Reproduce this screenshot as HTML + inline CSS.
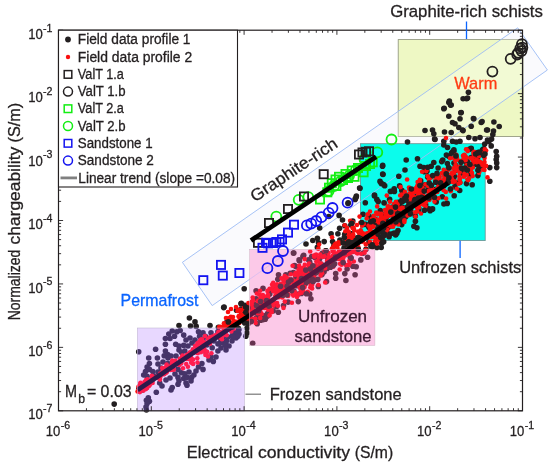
<!DOCTYPE html>
<html lang="en"><head><meta charset="utf-8"><title>Normalized chargeability vs electrical conductivity</title>
<style>html,body{margin:0;padding:0;background:#fff}svg{display:block}</style></head>
<body>
<svg width="550" height="464" viewBox="0 0 550 464" font-family="'Liberation Sans', sans-serif" fill="#231f20">
<style>text{stroke-width:0.3px}</style>
<rect width="550" height="464" fill="#fff"/>
<polygon points="182.4,262.3 517.7,27.8 547.4,70 212.2,305.6" fill="#f8f8fc"/>
<rect x="398.2" y="39.6" width="125" height="96.9" fill="#eef8c4" stroke="#8a8f78" stroke-width="0.8"/>
<polygon points="182.4,262.3 517.7,27.8 547.4,70 212.2,305.6" fill="#ffffff" fill-opacity="0.28"/>
<rect x="360.4" y="143.7" width="124.8" height="96.9" fill="#0bfcec" stroke="#6f8f90" stroke-width="0.8"/>
<polygon points="182.4,262.3 517.7,27.8 547.4,70 212.2,305.6" fill="none" stroke="#9dbcf5" stroke-width="0.9"/>
<defs>
<g id="b0">
<circle cx="138.7" cy="351.8" r="2.8"/>
<circle cx="189.4" cy="318.0" r="2.8"/>
<circle cx="179.0" cy="325.5" r="2.8"/>
<circle cx="195.0" cy="321.9" r="2.8"/>
<circle cx="190.5" cy="326.0" r="2.8"/>
<circle cx="196.2" cy="326.4" r="2.8"/>
<circle cx="210.0" cy="325.5" r="2.8"/>
<circle cx="172.2" cy="331.0" r="2.8"/>
<circle cx="176.8" cy="331.7" r="2.8"/>
<circle cx="180.2" cy="330.5" r="2.8"/>
<circle cx="183.7" cy="335.1" r="2.8"/>
<circle cx="168.8" cy="334.0" r="2.8"/>
<circle cx="165.4" cy="338.5" r="2.8"/>
<circle cx="170.0" cy="338.5" r="2.8"/>
<circle cx="174.5" cy="336.3" r="2.8"/>
<circle cx="165.4" cy="344.2" r="2.8"/>
<circle cx="175.7" cy="344.2" r="2.8"/>
<circle cx="179.0" cy="346.0" r="2.8"/>
<circle cx="183.7" cy="345.4" r="2.8"/>
<circle cx="155.6" cy="349.3" r="2.8"/>
<circle cx="165.4" cy="351.0" r="2.8"/>
<circle cx="167.7" cy="354.5" r="2.8"/>
<circle cx="164.2" cy="355.7" r="2.8"/>
<circle cx="179.0" cy="350.0" r="2.8"/>
<circle cx="181.4" cy="352.2" r="2.8"/>
<circle cx="184.8" cy="351.0" r="2.8"/>
<circle cx="148.7" cy="358.0" r="2.8"/>
<circle cx="157.4" cy="358.0" r="2.8"/>
<circle cx="167.7" cy="363.6" r="2.8"/>
<circle cx="172.2" cy="362.5" r="2.8"/>
<circle cx="149.4" cy="363.6" r="2.8"/>
<circle cx="147.1" cy="367.0" r="2.8"/>
<circle cx="149.4" cy="369.4" r="2.8"/>
<circle cx="145.5" cy="371.6" r="2.8"/>
<circle cx="143.7" cy="375.0" r="2.8"/>
<circle cx="147.1" cy="376.2" r="2.8"/>
<circle cx="152.8" cy="371.6" r="2.8"/>
<circle cx="198.5" cy="331.7" r="2.8"/>
<circle cx="203.0" cy="332.8" r="2.8"/>
<circle cx="199.6" cy="336.3" r="2.8"/>
<circle cx="205.3" cy="336.3" r="2.8"/>
<circle cx="211.0" cy="332.8" r="2.8"/>
<circle cx="208.8" cy="338.5" r="2.8"/>
<circle cx="203.0" cy="339.7" r="2.8"/>
<circle cx="200.8" cy="342.0" r="2.8"/>
<circle cx="217.9" cy="331.7" r="2.8"/>
<circle cx="220.2" cy="338.5" r="2.8"/>
<circle cx="223.6" cy="336.3" r="2.8"/>
<circle cx="223.6" cy="343.1" r="2.8"/>
<circle cx="225.9" cy="344.2" r="2.8"/>
<circle cx="212.2" cy="347.7" r="2.8"/>
<circle cx="217.9" cy="351.0" r="2.8"/>
<circle cx="211.0" cy="356.8" r="2.8"/>
<circle cx="213.3" cy="361.4" r="2.8"/>
<circle cx="201.9" cy="363.6" r="2.8"/>
<circle cx="203.0" cy="369.4" r="2.8"/>
<circle cx="198.5" cy="367.0" r="2.8"/>
<circle cx="178.0" cy="369.4" r="2.8"/>
<circle cx="181.4" cy="372.8" r="2.8"/>
<circle cx="184.8" cy="373.9" r="2.8"/>
<circle cx="178.0" cy="377.4" r="2.8"/>
<circle cx="179.0" cy="380.8" r="2.8"/>
<circle cx="183.7" cy="378.5" r="2.8"/>
<circle cx="187.0" cy="377.4" r="2.8"/>
<circle cx="191.6" cy="377.4" r="2.8"/>
<circle cx="193.9" cy="375.0" r="2.8"/>
<circle cx="186.0" cy="383.0" r="2.8"/>
<circle cx="187.0" cy="385.3" r="2.8"/>
<circle cx="178.0" cy="384.2" r="2.8"/>
<circle cx="172.2" cy="387.6" r="2.8"/>
<circle cx="171.0" cy="390.0" r="2.8"/>
<circle cx="159.7" cy="383.0" r="2.8"/>
<circle cx="156.3" cy="392.2" r="2.8"/>
<circle cx="142.6" cy="390.0" r="2.8"/>
<circle cx="148.3" cy="397.9" r="2.8"/>
<circle cx="146.4" cy="400.2" r="2.8"/>
<circle cx="149.4" cy="401.3" r="2.8"/>
<circle cx="147.1" cy="403.6" r="2.8"/>
<circle cx="146.0" cy="407.0" r="2.8"/>
<circle cx="146.4" cy="410.0" r="2.8"/>
<circle cx="114.2" cy="404.1" r="2.8"/>
<circle cx="223.7" cy="307.6" r="2.8"/>
<circle cx="241.0" cy="303.8" r="2.8"/>
<circle cx="152.0" cy="380.0" r="2.8"/>
<circle cx="154.0" cy="376.0" r="2.8"/>
<circle cx="158.0" cy="372.0" r="2.8"/>
<circle cx="161.0" cy="368.0" r="2.8"/>
<circle cx="163.0" cy="362.0" r="2.8"/>
<circle cx="158.0" cy="364.0" r="2.8"/>
<circle cx="168.0" cy="358.0" r="2.8"/>
<circle cx="171.0" cy="356.0" r="2.8"/>
<circle cx="176.0" cy="356.0" r="2.8"/>
<circle cx="188.0" cy="346.0" r="2.8"/>
<circle cx="192.0" cy="343.0" r="2.8"/>
<circle cx="195.0" cy="340.0" r="2.8"/>
<circle cx="190.0" cy="338.0" r="2.8"/>
<circle cx="186.0" cy="340.0" r="2.8"/>
<circle cx="207.0" cy="345.0" r="2.8"/>
<circle cx="214.0" cy="341.0" r="2.8"/>
<circle cx="218.0" cy="344.0" r="2.8"/>
<circle cx="221.0" cy="348.0" r="2.8"/>
<circle cx="226.0" cy="350.0" r="2.8"/>
<circle cx="229.0" cy="346.0" r="2.8"/>
<circle cx="232.0" cy="341.0" r="2.8"/>
<circle cx="228.0" cy="337.0" r="2.8"/>
<circle cx="233.0" cy="333.0" r="2.8"/>
<circle cx="236.0" cy="338.0" r="2.8"/>
<circle cx="239.0" cy="334.0" r="2.8"/>
<circle cx="206.0" cy="352.0" r="2.8"/>
<circle cx="209.0" cy="360.0" r="2.8"/>
<circle cx="216.0" cy="357.0" r="2.8"/>
<circle cx="196.0" cy="371.0" r="2.8"/>
<circle cx="191.0" cy="381.0" r="2.8"/>
<circle cx="189.0" cy="372.0" r="2.8"/>
<circle cx="175.0" cy="374.0" r="2.8"/>
<circle cx="170.0" cy="378.0" r="2.8"/>
<circle cx="166.0" cy="380.0" r="2.8"/>
<circle cx="162.0" cy="386.0" r="2.8"/>
<circle cx="244.2" cy="288.8" r="2.8"/>
<circle cx="224.1" cy="307.1" r="2.8"/>
<circle cx="241.3" cy="303.2" r="2.8"/>
<circle cx="293.8" cy="253.0" r="2.8"/>
<circle cx="302.9" cy="256.4" r="2.8"/>
<circle cx="299.5" cy="261.0" r="2.8"/>
<circle cx="309.7" cy="262.1" r="2.8"/>
<circle cx="285.8" cy="274.7" r="2.8"/>
<circle cx="277.8" cy="279.2" r="2.8"/>
<circle cx="274.4" cy="287.2" r="2.8"/>
<circle cx="263.0" cy="288.4" r="2.8"/>
<circle cx="256.1" cy="290.7" r="2.8"/>
<circle cx="256.1" cy="298.7" r="2.8"/>
<circle cx="260.7" cy="299.8" r="2.8"/>
<circle cx="269.8" cy="294.1" r="2.8"/>
<circle cx="280.1" cy="291.8" r="2.8"/>
<circle cx="285.8" cy="286.1" r="2.8"/>
<circle cx="292.6" cy="281.5" r="2.8"/>
<circle cx="299.5" cy="279.2" r="2.8"/>
<circle cx="305.2" cy="272.4" r="2.8"/>
<circle cx="293.8" cy="290.7" r="2.8"/>
<circle cx="298.3" cy="294.1" r="2.8"/>
<circle cx="288.1" cy="302.1" r="2.8"/>
<circle cx="283.5" cy="305.5" r="2.8"/>
<circle cx="276.6" cy="306.6" r="2.8"/>
<circle cx="270.9" cy="310.1" r="2.8"/>
<circle cx="267.5" cy="313.5" r="2.8"/>
<circle cx="264.1" cy="315.8" r="2.8"/>
<circle cx="259.5" cy="316.9" r="2.8"/>
<circle cx="256.1" cy="318.1" r="2.8"/>
<circle cx="260.7" cy="320.3" r="2.8"/>
<circle cx="265.2" cy="319.2" r="2.8"/>
<circle cx="257.2" cy="323.8" r="2.8"/>
<circle cx="248.1" cy="323.8" r="2.8"/>
<circle cx="247.0" cy="328.3" r="2.8"/>
<circle cx="247.0" cy="332.9" r="2.8"/>
<circle cx="245.8" cy="336.3" r="2.8"/>
<circle cx="252.7" cy="343.2" r="2.8"/>
<circle cx="226.4" cy="322.6" r="2.8"/>
<circle cx="218.4" cy="327.2" r="2.8"/>
<circle cx="223.0" cy="336.3" r="2.8"/>
<circle cx="226.4" cy="340.9" r="2.8"/>
<circle cx="232.1" cy="336.3" r="2.8"/>
<circle cx="235.5" cy="332.9" r="2.8"/>
<circle cx="237.8" cy="336.3" r="2.8"/>
<circle cx="225.3" cy="345.5" r="2.8"/>
<circle cx="219.6" cy="343.2" r="2.8"/>
<circle cx="309.7" cy="294.1" r="2.8"/>
<circle cx="310.9" cy="298.7" r="2.8"/>
<circle cx="359.6" cy="188.0" r="2.8"/>
<circle cx="356.2" cy="197.1" r="2.8"/>
<circle cx="355.1" cy="199.4" r="2.8"/>
<circle cx="348.2" cy="202.8" r="2.8"/>
<circle cx="339.1" cy="215.4" r="2.8"/>
<circle cx="342.5" cy="220.0" r="2.8"/>
<circle cx="328.8" cy="216.5" r="2.8"/>
<circle cx="319.7" cy="228.0" r="2.8"/>
<circle cx="331.1" cy="233.7" r="2.8"/>
<circle cx="337.9" cy="233.7" r="2.8"/>
<circle cx="317.4" cy="238.2" r="2.8"/>
<circle cx="312.8" cy="240.5" r="2.8"/>
<circle cx="306.0" cy="244.0" r="2.8"/>
<circle cx="318.5" cy="242.8" r="2.8"/>
<circle cx="324.2" cy="241.6" r="2.8"/>
<circle cx="317.4" cy="247.4" r="2.8"/>
<circle cx="352.8" cy="221.1" r="2.8"/>
<circle cx="344.8" cy="225.7" r="2.8"/>
<circle cx="376.8" cy="247.4" r="2.8"/>
<circle cx="371.0" cy="246.2" r="2.8"/>
<circle cx="381.3" cy="183.4" r="2.8"/>
<circle cx="384.7" cy="185.7" r="2.8"/>
<circle cx="374.5" cy="196.0" r="2.8"/>
<circle cx="376.8" cy="199.4" r="2.8"/>
<circle cx="365.3" cy="202.8" r="2.8"/>
<circle cx="363.0" cy="214.2" r="2.8"/>
<circle cx="293.4" cy="253.1" r="2.8"/>
<circle cx="303.7" cy="255.3" r="2.8"/>
<circle cx="299.1" cy="259.9" r="2.8"/>
<circle cx="311.7" cy="256.5" r="2.8"/>
<circle cx="294.6" cy="265.6" r="2.8"/>
<circle cx="293.4" cy="272.5" r="2.8"/>
<circle cx="295.7" cy="275.9" r="2.8"/>
<circle cx="319.7" cy="258.8" r="2.8"/>
<circle cx="326.5" cy="255.3" r="2.8"/>
<circle cx="356.2" cy="266.8" r="2.8"/>
<circle cx="360.8" cy="259.9" r="2.8"/>
<circle cx="347.1" cy="269.0" r="2.8"/>
<circle cx="344.8" cy="273.6" r="2.8"/>
<circle cx="355.1" cy="274.7" r="2.8"/>
<circle cx="335.7" cy="273.6" r="2.8"/>
<circle cx="345.9" cy="280.5" r="2.8"/>
<circle cx="335.7" cy="278.2" r="2.8"/>
<circle cx="326.5" cy="281.6" r="2.8"/>
<circle cx="303.7" cy="281.6" r="2.8"/>
<circle cx="363.1" cy="253.1" r="2.8"/>
<circle cx="382.7" cy="165.4" r="2.8"/>
<circle cx="382.7" cy="174.0" r="2.8"/>
<circle cx="380.0" cy="181.4" r="2.8"/>
<circle cx="383.6" cy="184.6" r="2.8"/>
<circle cx="360.0" cy="188.3" r="2.8"/>
<circle cx="356.4" cy="196.0" r="2.8"/>
<circle cx="355.5" cy="198.6" r="2.8"/>
<circle cx="348.0" cy="203.5" r="2.8"/>
<circle cx="374.5" cy="195.0" r="2.8"/>
<circle cx="443.8" cy="108.8" r="2.8"/>
<circle cx="448.8" cy="102.5" r="2.8"/>
<circle cx="451.2" cy="105.0" r="2.8"/>
<circle cx="461.2" cy="112.5" r="2.8"/>
<circle cx="448.8" cy="116.2" r="2.8"/>
<circle cx="460.0" cy="118.8" r="2.8"/>
<circle cx="473.8" cy="118.8" r="2.8"/>
<circle cx="452.5" cy="122.5" r="2.8"/>
<circle cx="455.0" cy="123.8" r="2.8"/>
<circle cx="481.2" cy="122.5" r="2.8"/>
<circle cx="458.8" cy="127.5" r="2.8"/>
<circle cx="462.5" cy="130.0" r="2.8"/>
<circle cx="471.2" cy="126.2" r="2.8"/>
<circle cx="425.0" cy="130.5" r="2.8"/>
<circle cx="432.5" cy="130.0" r="2.8"/>
<circle cx="433.8" cy="133.8" r="2.8"/>
<circle cx="444.5" cy="132.0" r="2.8"/>
<circle cx="451.2" cy="132.5" r="2.8"/>
<circle cx="487.5" cy="130.0" r="2.8"/>
<circle cx="468.8" cy="137.5" r="2.8"/>
<circle cx="475.0" cy="138.8" r="2.8"/>
<circle cx="480.0" cy="137.5" r="2.8"/>
<circle cx="487.5" cy="140.0" r="2.8"/>
<circle cx="435.0" cy="139.5" r="2.8"/>
<circle cx="407.5" cy="142.0" r="2.8"/>
<circle cx="443.8" cy="141.2" r="2.8"/>
<circle cx="452.5" cy="141.2" r="2.8"/>
<circle cx="456.2" cy="142.0" r="2.8"/>
<circle cx="460.0" cy="141.2" r="2.8"/>
<circle cx="406.2" cy="160.0" r="2.8"/>
<circle cx="417.5" cy="158.8" r="2.8"/>
<circle cx="382.5" cy="166.2" r="2.8"/>
<circle cx="383.0" cy="174.5" r="2.8"/>
<circle cx="405.0" cy="170.0" r="2.8"/>
<circle cx="398.8" cy="176.2" r="2.8"/>
<circle cx="420.0" cy="166.2" r="2.8"/>
<circle cx="423.8" cy="167.5" r="2.8"/>
<circle cx="431.2" cy="166.2" r="2.8"/>
<circle cx="433.8" cy="162.5" r="2.8"/>
<circle cx="443.8" cy="145.0" r="2.8"/>
<circle cx="447.5" cy="147.5" r="2.8"/>
<circle cx="448.8" cy="156.2" r="2.8"/>
<circle cx="453.8" cy="151.2" r="2.8"/>
<circle cx="471.2" cy="148.8" r="2.8"/>
<circle cx="483.8" cy="148.8" r="2.8"/>
<circle cx="480.0" cy="153.8" r="2.8"/>
<circle cx="471.2" cy="157.5" r="2.8"/>
<circle cx="478.8" cy="166.2" r="2.8"/>
<circle cx="482.5" cy="167.5" r="2.8"/>
<circle cx="468.4" cy="92.3" r="2.8"/>
<circle cx="463.1" cy="98.7" r="2.8"/>
<circle cx="466.5" cy="98.7" r="2.8"/>
<circle cx="449.4" cy="101.0" r="2.8"/>
<circle cx="444.2" cy="108.3" r="2.8"/>
<circle cx="460.8" cy="112.8" r="2.8"/>
<circle cx="473.4" cy="118.5" r="2.8"/>
<circle cx="482.1" cy="121.5" r="2.8"/>
<circle cx="493.9" cy="122.0" r="2.8"/>
<circle cx="499.2" cy="126.5" r="2.8"/>
<circle cx="463.1" cy="130.6" r="2.8"/>
<circle cx="486.6" cy="130.0" r="2.8"/>
<circle cx="493.5" cy="131.1" r="2.8"/>
<circle cx="492.8" cy="134.5" r="2.8"/>
<circle cx="491.6" cy="139.1" r="2.8"/>
<circle cx="488.9" cy="141.4" r="2.8"/>
<circle cx="434.6" cy="139.1" r="2.8"/>
<circle cx="491.2" cy="145.9" r="2.8"/>
<circle cx="496.2" cy="151.6" r="2.8"/>
<circle cx="496.7" cy="156.2" r="2.8"/>
<circle cx="496.2" cy="159.6" r="2.8"/>
<circle cx="496.7" cy="163.1" r="2.8"/>
<circle cx="496.7" cy="167.6" r="2.8"/>
<circle cx="489.8" cy="167.6" r="2.8"/>
<circle cx="489.8" cy="181.3" r="2.8"/>
<circle cx="471.1" cy="148.2" r="2.8"/>
<circle cx="482.5" cy="149.8" r="2.8"/>
<circle cx="452.8" cy="151.6" r="2.8"/>
<circle cx="446.4" cy="155.1" r="2.8"/>
<circle cx="472.2" cy="157.4" r="2.8"/>
<circle cx="454.0" cy="163.1" r="2.8"/>
<circle cx="479.1" cy="165.3" r="2.8"/>
<circle cx="470.0" cy="174.5" r="2.8"/>
<circle cx="477.9" cy="175.6" r="2.8"/>
<circle cx="466.5" cy="183.6" r="2.8"/>
<circle cx="472.2" cy="184.7" r="2.8"/>
<circle cx="459.7" cy="190.5" r="2.8"/>
<circle cx="459.7" cy="182.5" r="2.8"/>
<circle cx="467.6" cy="98.1" r="2.8"/>
<circle cx="450.5" cy="105.1" r="2.8"/>
<circle cx="264.5" cy="306.9" r="2.8"/>
<circle cx="230.7" cy="324.6" r="2.8"/>
<circle cx="234.5" cy="326.5" r="2.8"/>
<circle cx="244.1" cy="314.2" r="2.8"/>
<circle cx="273.2" cy="311.0" r="2.8"/>
<circle cx="248.9" cy="320.6" r="2.8"/>
<circle cx="238.4" cy="328.3" r="2.8"/>
<circle cx="241.0" cy="309.0" r="2.8"/>
<circle cx="254.8" cy="304.2" r="2.8"/>
<circle cx="267.4" cy="305.5" r="2.8"/>
<circle cx="277.0" cy="287.6" r="2.8"/>
<circle cx="270.2" cy="304.3" r="2.8"/>
<circle cx="236.5" cy="310.2" r="2.8"/>
<circle cx="263.2" cy="319.6" r="2.8"/>
<circle cx="269.3" cy="307.3" r="2.8"/>
<circle cx="278.1" cy="288.5" r="2.8"/>
<circle cx="270.8" cy="290.1" r="2.8"/>
<circle cx="296.0" cy="266.6" r="2.8"/>
<circle cx="232.4" cy="328.8" r="2.8"/>
<circle cx="278.5" cy="274.8" r="2.8"/>
<circle cx="276.1" cy="306.2" r="2.8"/>
<circle cx="229.6" cy="323.2" r="2.8"/>
<circle cx="256.1" cy="312.9" r="2.8"/>
<circle cx="260.3" cy="304.3" r="2.8"/>
<circle cx="267.6" cy="316.1" r="2.8"/>
<circle cx="290.2" cy="273.2" r="2.8"/>
<circle cx="297.0" cy="285.7" r="2.8"/>
<circle cx="244.7" cy="322.9" r="2.8"/>
<circle cx="244.8" cy="305.4" r="2.8"/>
<circle cx="246.9" cy="317.7" r="2.8"/>
<circle cx="296.6" cy="277.2" r="2.8"/>
<circle cx="367.6" cy="257.2" r="2.8"/>
<circle cx="387.5" cy="222.4" r="2.8"/>
<circle cx="339.9" cy="240.0" r="2.8"/>
<circle cx="306.7" cy="271.1" r="2.8"/>
<circle cx="305.3" cy="283.7" r="2.8"/>
<circle cx="300.0" cy="281.6" r="2.8"/>
<circle cx="336.4" cy="258.1" r="2.8"/>
<circle cx="314.9" cy="257.4" r="2.8"/>
<circle cx="325.2" cy="255.0" r="2.8"/>
<circle cx="326.5" cy="266.8" r="2.8"/>
<circle cx="395.1" cy="215.7" r="2.8"/>
<circle cx="352.8" cy="251.5" r="2.8"/>
<circle cx="302.7" cy="287.8" r="2.8"/>
<circle cx="352.8" cy="266.2" r="2.8"/>
<circle cx="369.6" cy="227.5" r="2.8"/>
<circle cx="326.1" cy="256.1" r="2.8"/>
<circle cx="377.2" cy="231.3" r="2.8"/>
<circle cx="322.3" cy="253.3" r="2.8"/>
<circle cx="380.6" cy="221.0" r="2.8"/>
<circle cx="381.8" cy="221.9" r="2.8"/>
<circle cx="351.8" cy="234.5" r="2.8"/>
<circle cx="327.9" cy="260.0" r="2.8"/>
<circle cx="325.9" cy="250.7" r="2.8"/>
<circle cx="344.7" cy="234.3" r="2.8"/>
<circle cx="322.7" cy="269.2" r="2.8"/>
<circle cx="319.7" cy="269.7" r="2.8"/>
<circle cx="380.0" cy="226.1" r="2.8"/>
<circle cx="308.5" cy="259.8" r="2.8"/>
<circle cx="378.2" cy="201.6" r="2.8"/>
<circle cx="375.0" cy="219.4" r="2.8"/>
<circle cx="378.9" cy="225.6" r="2.8"/>
<circle cx="339.6" cy="228.2" r="2.8"/>
<circle cx="398.0" cy="230.6" r="2.8"/>
<circle cx="365.7" cy="224.4" r="2.8"/>
<circle cx="301.4" cy="293.4" r="2.8"/>
<circle cx="352.7" cy="239.3" r="2.8"/>
<circle cx="321.1" cy="264.1" r="2.8"/>
<circle cx="324.1" cy="271.7" r="2.8"/>
<circle cx="391.0" cy="207.6" r="2.8"/>
<circle cx="390.4" cy="191.4" r="2.8"/>
<circle cx="350.2" cy="257.0" r="2.8"/>
<circle cx="353.2" cy="239.8" r="2.8"/>
<circle cx="318.3" cy="286.4" r="2.8"/>
<circle cx="317.2" cy="267.3" r="2.8"/>
<circle cx="332.6" cy="241.6" r="2.8"/>
<circle cx="310.6" cy="264.7" r="2.8"/>
<circle cx="377.2" cy="235.7" r="2.8"/>
<circle cx="350.8" cy="225.0" r="2.8"/>
<circle cx="391.2" cy="207.8" r="2.8"/>
<circle cx="351.2" cy="234.2" r="2.8"/>
<circle cx="369.3" cy="216.5" r="2.8"/>
<circle cx="347.8" cy="250.2" r="2.8"/>
<circle cx="394.2" cy="205.7" r="2.8"/>
<circle cx="394.2" cy="188.9" r="2.8"/>
<circle cx="307.3" cy="273.9" r="2.8"/>
<circle cx="371.6" cy="225.1" r="2.8"/>
<circle cx="366.0" cy="249.2" r="2.8"/>
<circle cx="322.0" cy="274.6" r="2.8"/>
<circle cx="399.0" cy="214.5" r="2.8"/>
<circle cx="351.6" cy="239.0" r="2.8"/>
<circle cx="331.9" cy="263.3" r="2.8"/>
<circle cx="344.0" cy="250.3" r="2.8"/>
<circle cx="301.8" cy="269.9" r="2.8"/>
<circle cx="397.2" cy="209.8" r="2.8"/>
<circle cx="310.5" cy="271.2" r="2.8"/>
<circle cx="327.0" cy="268.4" r="2.8"/>
<circle cx="391.1" cy="225.8" r="2.8"/>
<circle cx="381.9" cy="222.0" r="2.8"/>
<circle cx="391.9" cy="222.8" r="2.8"/>
<circle cx="357.1" cy="237.9" r="2.8"/>
<circle cx="368.8" cy="227.1" r="2.8"/>
<circle cx="393.8" cy="216.5" r="2.8"/>
<circle cx="363.4" cy="236.7" r="2.8"/>
<circle cx="385.6" cy="214.8" r="2.8"/>
<circle cx="333.9" cy="245.6" r="2.8"/>
<circle cx="355.3" cy="249.2" r="2.8"/>
<circle cx="305.0" cy="278.1" r="2.8"/>
<circle cx="375.9" cy="222.8" r="2.8"/>
<circle cx="334.7" cy="263.7" r="2.8"/>
<circle cx="347.5" cy="243.6" r="2.8"/>
<circle cx="349.5" cy="250.7" r="2.8"/>
<circle cx="350.7" cy="233.5" r="2.8"/>
<circle cx="368.8" cy="242.7" r="2.8"/>
<circle cx="383.2" cy="220.2" r="2.8"/>
<circle cx="384.1" cy="224.9" r="2.8"/>
<circle cx="436.3" cy="189.9" r="2.8"/>
<circle cx="443.9" cy="185.8" r="2.8"/>
<circle cx="398.4" cy="202.3" r="2.8"/>
<circle cx="400.0" cy="202.3" r="2.8"/>
<circle cx="403.5" cy="207.9" r="2.8"/>
<circle cx="416.1" cy="190.8" r="2.8"/>
<circle cx="380.4" cy="223.6" r="2.8"/>
<circle cx="383.2" cy="233.2" r="2.8"/>
<circle cx="424.5" cy="171.8" r="2.8"/>
<circle cx="430.0" cy="186.2" r="2.8"/>
<circle cx="454.8" cy="186.7" r="2.8"/>
<circle cx="428.9" cy="208.8" r="2.8"/>
<circle cx="435.8" cy="189.3" r="2.8"/>
<circle cx="419.8" cy="190.4" r="2.8"/>
<circle cx="418.3" cy="210.7" r="2.8"/>
<circle cx="388.0" cy="227.5" r="2.8"/>
<circle cx="427.7" cy="176.9" r="2.8"/>
<circle cx="427.6" cy="185.3" r="2.8"/>
<circle cx="380.3" cy="210.5" r="2.8"/>
<circle cx="420.7" cy="180.7" r="2.8"/>
<circle cx="430.1" cy="210.7" r="2.8"/>
<circle cx="399.2" cy="220.0" r="2.8"/>
<circle cx="385.7" cy="218.4" r="2.8"/>
<circle cx="395.6" cy="235.0" r="2.8"/>
<circle cx="436.2" cy="201.9" r="2.8"/>
<circle cx="409.1" cy="202.2" r="2.8"/>
<circle cx="416.4" cy="190.3" r="2.8"/>
<circle cx="426.9" cy="171.2" r="2.8"/>
<circle cx="399.3" cy="214.7" r="2.8"/>
<circle cx="436.5" cy="180.0" r="2.8"/>
<circle cx="380.9" cy="239.6" r="2.8"/>
<circle cx="384.6" cy="218.9" r="2.8"/>
<circle cx="432.6" cy="208.9" r="2.8"/>
<circle cx="415.3" cy="216.0" r="2.8"/>
<circle cx="395.1" cy="233.0" r="2.8"/>
<circle cx="454.3" cy="176.2" r="2.8"/>
<circle cx="442.3" cy="196.8" r="2.8"/>
<circle cx="400.4" cy="207.6" r="2.8"/>
<circle cx="390.1" cy="224.2" r="2.8"/>
<circle cx="447.4" cy="163.5" r="2.8"/>
<circle cx="433.5" cy="191.4" r="2.8"/>
<circle cx="381.9" cy="238.2" r="2.8"/>
<circle cx="402.9" cy="216.5" r="2.8"/>
<circle cx="404.0" cy="217.4" r="2.8"/>
<circle cx="443.8" cy="181.2" r="2.8"/>
<circle cx="448.5" cy="167.9" r="2.8"/>
<circle cx="402.0" cy="200.1" r="2.8"/>
<circle cx="455.9" cy="182.8" r="2.8"/>
<circle cx="424.8" cy="184.7" r="2.8"/>
<circle cx="400.9" cy="220.9" r="2.8"/>
<circle cx="401.7" cy="224.6" r="2.8"/>
<circle cx="451.1" cy="176.0" r="2.8"/>
<circle cx="418.8" cy="208.5" r="2.8"/>
<circle cx="394.4" cy="191.4" r="2.8"/>
<circle cx="447.2" cy="203.4" r="2.8"/>
<circle cx="441.7" cy="161.6" r="2.8"/>
<circle cx="451.5" cy="153.1" r="2.8"/>
<circle cx="421.7" cy="195.1" r="2.8"/>
<circle cx="414.3" cy="201.4" r="2.8"/>
<circle cx="401.8" cy="190.4" r="2.8"/>
<circle cx="415.9" cy="196.8" r="2.8"/>
<circle cx="454.2" cy="195.8" r="2.8"/>
<circle cx="399.8" cy="204.6" r="2.8"/>
<circle cx="422.4" cy="186.0" r="2.8"/>
<circle cx="410.0" cy="207.9" r="2.8"/>
<circle cx="395.8" cy="220.4" r="2.8"/>
<circle cx="455.7" cy="165.5" r="2.8"/>
<circle cx="394.6" cy="216.6" r="2.8"/>
<circle cx="386.9" cy="216.5" r="2.8"/>
<circle cx="398.2" cy="216.8" r="2.8"/>
<circle cx="399.6" cy="185.9" r="2.8"/>
<circle cx="408.6" cy="213.3" r="2.8"/>
<circle cx="405.7" cy="216.8" r="2.8"/>
<circle cx="453.5" cy="178.6" r="2.8"/>
<circle cx="389.6" cy="199.3" r="2.8"/>
<circle cx="445.6" cy="179.3" r="2.8"/>
<circle cx="396.4" cy="211.9" r="2.8"/>
<circle cx="413.9" cy="226.3" r="2.8"/>
<circle cx="446.3" cy="171.5" r="2.8"/>
<circle cx="381.7" cy="243.3" r="2.8"/>
<circle cx="398.9" cy="217.4" r="2.8"/>
<circle cx="419.7" cy="202.3" r="2.8"/>
<circle cx="431.8" cy="209.5" r="2.8"/>
<circle cx="438.1" cy="168.0" r="2.8"/>
<circle cx="383.0" cy="226.7" r="2.8"/>
<circle cx="439.5" cy="187.3" r="2.8"/>
<circle cx="429.1" cy="188.6" r="2.8"/>
<circle cx="399.1" cy="217.9" r="2.8"/>
<circle cx="428.4" cy="189.3" r="2.8"/>
<circle cx="385.3" cy="214.6" r="2.8"/>
<circle cx="397.0" cy="206.3" r="2.8"/>
<circle cx="425.7" cy="204.8" r="2.8"/>
<circle cx="468.7" cy="164.0" r="2.8"/>
<circle cx="469.2" cy="149.3" r="2.8"/>
<circle cx="476.5" cy="158.5" r="2.8"/>
<circle cx="475.4" cy="162.8" r="2.8"/>
<circle cx="467.5" cy="161.9" r="2.8"/>
<circle cx="464.0" cy="169.0" r="2.8"/>
<circle cx="478.3" cy="152.4" r="2.8"/>
<circle cx="469.9" cy="165.2" r="2.8"/>
<circle cx="475.3" cy="164.2" r="2.8"/>
<circle cx="466.6" cy="163.2" r="2.8"/>
<circle cx="460.8" cy="172.9" r="2.8"/>
<circle cx="455.7" cy="170.2" r="2.8"/>
<circle cx="482.3" cy="166.6" r="2.8"/>
<circle cx="477.4" cy="158.3" r="2.8"/>
<circle cx="464.5" cy="174.0" r="2.8"/>
</g>
<g id="rd">
<circle cx="149.0" cy="383.0" r="2.3"/>
<circle cx="148.9" cy="381.4" r="2.3"/>
<circle cx="137.6" cy="391.4" r="2.3"/>
<circle cx="146.0" cy="380.0" r="2.3"/>
<circle cx="141.3" cy="389.3" r="2.3"/>
<circle cx="148.4" cy="382.2" r="2.3"/>
<circle cx="162.6" cy="374.4" r="2.3"/>
<circle cx="139.0" cy="386.3" r="2.3"/>
<circle cx="151.9" cy="375.7" r="2.3"/>
<circle cx="143.4" cy="390.6" r="2.3"/>
<circle cx="148.6" cy="383.1" r="2.3"/>
<circle cx="150.0" cy="381.1" r="2.3"/>
<circle cx="162.3" cy="373.3" r="2.3"/>
<circle cx="138.6" cy="388.5" r="2.3"/>
<circle cx="139.4" cy="390.6" r="2.3"/>
<circle cx="160.3" cy="373.5" r="2.3"/>
<circle cx="164.9" cy="370.2" r="2.3"/>
<circle cx="166.7" cy="372.3" r="2.3"/>
<circle cx="156.3" cy="376.9" r="2.3"/>
<circle cx="147.2" cy="388.0" r="2.3"/>
<circle cx="145.9" cy="389.1" r="2.3"/>
<circle cx="165.5" cy="371.2" r="2.3"/>
<circle cx="156.8" cy="377.5" r="2.3"/>
<circle cx="144.6" cy="385.0" r="2.3"/>
<circle cx="152.0" cy="378.3" r="2.3"/>
<circle cx="149.3" cy="382.0" r="2.3"/>
<circle cx="152.6" cy="382.9" r="2.3"/>
<circle cx="165.8" cy="373.0" r="2.3"/>
<circle cx="160.0" cy="379.6" r="2.3"/>
<circle cx="162.6" cy="373.6" r="2.3"/>
<circle cx="147.5" cy="379.4" r="2.3"/>
<circle cx="147.2" cy="380.2" r="2.3"/>
<circle cx="139.9" cy="392.1" r="2.3"/>
<circle cx="143.5" cy="386.0" r="2.3"/>
<circle cx="139.5" cy="386.5" r="2.3"/>
<circle cx="138.5" cy="386.9" r="2.3"/>
<circle cx="167.4" cy="368.9" r="2.3"/>
<circle cx="164.4" cy="374.1" r="2.3"/>
<circle cx="140.1" cy="388.1" r="2.3"/>
<circle cx="140.4" cy="383.6" r="2.3"/>
<circle cx="151.1" cy="380.8" r="2.3"/>
<circle cx="144.6" cy="381.7" r="2.3"/>
<circle cx="158.1" cy="378.1" r="2.3"/>
<circle cx="160.3" cy="377.1" r="2.3"/>
<circle cx="141.2" cy="384.1" r="2.3"/>
<circle cx="163.1" cy="371.6" r="2.3"/>
<circle cx="148.9" cy="385.9" r="2.3"/>
<circle cx="160.0" cy="375.5" r="2.3"/>
<circle cx="145.0" cy="387.0" r="2.3"/>
<circle cx="142.2" cy="389.6" r="2.3"/>
<circle cx="147.5" cy="380.8" r="2.3"/>
<circle cx="149.6" cy="385.2" r="2.3"/>
<circle cx="144.6" cy="385.1" r="2.3"/>
<circle cx="162.2" cy="368.1" r="2.3"/>
<circle cx="140.6" cy="382.7" r="2.3"/>
<circle cx="198.6" cy="348.9" r="2.3"/>
<circle cx="201.6" cy="348.8" r="2.3"/>
<circle cx="169.8" cy="368.1" r="2.3"/>
<circle cx="172.6" cy="369.8" r="2.3"/>
<circle cx="202.2" cy="344.6" r="2.3"/>
<circle cx="179.9" cy="363.0" r="2.3"/>
<circle cx="175.4" cy="360.9" r="2.3"/>
<circle cx="196.1" cy="351.2" r="2.3"/>
<circle cx="188.8" cy="353.9" r="2.3"/>
<circle cx="189.8" cy="354.5" r="2.3"/>
<circle cx="170.7" cy="369.9" r="2.3"/>
<circle cx="173.2" cy="365.0" r="2.3"/>
<circle cx="191.1" cy="357.8" r="2.3"/>
<circle cx="173.1" cy="368.1" r="2.3"/>
<circle cx="192.1" cy="352.5" r="2.3"/>
<circle cx="172.4" cy="364.8" r="2.3"/>
<circle cx="196.8" cy="351.4" r="2.3"/>
<circle cx="186.9" cy="357.3" r="2.3"/>
<circle cx="180.8" cy="360.5" r="2.3"/>
<circle cx="187.0" cy="354.7" r="2.3"/>
<circle cx="171.5" cy="365.1" r="2.3"/>
<circle cx="192.8" cy="349.3" r="2.3"/>
<circle cx="177.3" cy="363.8" r="2.3"/>
<circle cx="203.1" cy="342.9" r="2.3"/>
<circle cx="179.3" cy="365.0" r="2.3"/>
<circle cx="181.7" cy="357.9" r="2.3"/>
<circle cx="194.1" cy="352.7" r="2.3"/>
<circle cx="173.1" cy="365.4" r="2.3"/>
<circle cx="182.0" cy="360.7" r="2.3"/>
<circle cx="200.3" cy="343.2" r="2.3"/>
<circle cx="183.4" cy="358.5" r="2.3"/>
<circle cx="187.1" cy="356.2" r="2.3"/>
<circle cx="190.6" cy="354.6" r="2.3"/>
<circle cx="189.9" cy="352.9" r="2.3"/>
<circle cx="179.8" cy="358.7" r="2.3"/>
<circle cx="176.3" cy="362.9" r="2.3"/>
<circle cx="185.8" cy="358.0" r="2.3"/>
<circle cx="184.6" cy="356.6" r="2.3"/>
<circle cx="197.2" cy="351.2" r="2.3"/>
<circle cx="170.1" cy="366.8" r="2.3"/>
<circle cx="202.7" cy="349.3" r="2.3"/>
<circle cx="167.1" cy="368.6" r="2.3"/>
<circle cx="202.0" cy="339.3" r="2.3"/>
<circle cx="189.8" cy="358.8" r="2.3"/>
<circle cx="198.0" cy="351.7" r="2.3"/>
<circle cx="173.9" cy="369.6" r="2.3"/>
<circle cx="181.2" cy="363.4" r="2.3"/>
<circle cx="172.3" cy="360.6" r="2.3"/>
<circle cx="173.7" cy="361.5" r="2.3"/>
<circle cx="180.3" cy="362.7" r="2.3"/>
<circle cx="169.9" cy="367.4" r="2.3"/>
<circle cx="200.9" cy="352.3" r="2.3"/>
<circle cx="166.6" cy="364.5" r="2.3"/>
<circle cx="166.5" cy="367.6" r="2.3"/>
<circle cx="198.5" cy="351.6" r="2.3"/>
<circle cx="187.0" cy="358.9" r="2.3"/>
<circle cx="190.1" cy="352.3" r="2.3"/>
<circle cx="188.3" cy="358.3" r="2.3"/>
<circle cx="182.0" cy="357.1" r="2.3"/>
<circle cx="182.5" cy="355.6" r="2.3"/>
<circle cx="165.9" cy="367.3" r="2.3"/>
<circle cx="174.4" cy="361.6" r="2.3"/>
<circle cx="195.5" cy="350.7" r="2.3"/>
<circle cx="172.2" cy="362.2" r="2.3"/>
<circle cx="183.9" cy="359.2" r="2.3"/>
<circle cx="219.5" cy="333.7" r="2.3"/>
<circle cx="200.2" cy="340.9" r="2.3"/>
<circle cx="197.3" cy="349.3" r="2.3"/>
<circle cx="231.3" cy="331.5" r="2.3"/>
<circle cx="239.3" cy="322.9" r="2.3"/>
<circle cx="224.2" cy="334.6" r="2.3"/>
<circle cx="216.5" cy="336.1" r="2.3"/>
<circle cx="249.2" cy="319.2" r="2.3"/>
<circle cx="251.8" cy="318.7" r="2.3"/>
<circle cx="236.7" cy="321.7" r="2.3"/>
<circle cx="251.0" cy="306.8" r="2.3"/>
<circle cx="223.0" cy="326.7" r="2.3"/>
<circle cx="204.4" cy="345.0" r="2.3"/>
<circle cx="198.7" cy="342.5" r="2.3"/>
<circle cx="204.0" cy="348.7" r="2.3"/>
<circle cx="246.1" cy="312.1" r="2.3"/>
<circle cx="203.2" cy="351.3" r="2.3"/>
<circle cx="223.6" cy="332.3" r="2.3"/>
<circle cx="210.0" cy="337.3" r="2.3"/>
<circle cx="223.8" cy="328.6" r="2.3"/>
<circle cx="205.4" cy="343.1" r="2.3"/>
<circle cx="204.2" cy="348.8" r="2.3"/>
<circle cx="246.0" cy="310.4" r="2.3"/>
<circle cx="204.6" cy="343.0" r="2.3"/>
<circle cx="225.3" cy="325.8" r="2.3"/>
<circle cx="231.3" cy="317.2" r="2.3"/>
<circle cx="226.6" cy="335.2" r="2.3"/>
<circle cx="228.1" cy="328.0" r="2.3"/>
<circle cx="251.6" cy="308.0" r="2.3"/>
<circle cx="230.9" cy="316.9" r="2.3"/>
<circle cx="210.1" cy="343.7" r="2.3"/>
<circle cx="251.5" cy="305.0" r="2.3"/>
<circle cx="238.6" cy="316.5" r="2.3"/>
<circle cx="220.2" cy="335.3" r="2.3"/>
<circle cx="197.8" cy="353.3" r="2.3"/>
<circle cx="241.7" cy="316.6" r="2.3"/>
<circle cx="251.1" cy="318.8" r="2.3"/>
<circle cx="228.4" cy="323.7" r="2.3"/>
<circle cx="195.1" cy="346.1" r="2.3"/>
<circle cx="196.9" cy="351.2" r="2.3"/>
<circle cx="219.6" cy="337.5" r="2.3"/>
<circle cx="224.2" cy="331.0" r="2.3"/>
<circle cx="208.0" cy="338.7" r="2.3"/>
<circle cx="232.2" cy="323.7" r="2.3"/>
<circle cx="215.2" cy="335.2" r="2.3"/>
<circle cx="201.1" cy="343.1" r="2.3"/>
<circle cx="228.3" cy="329.0" r="2.3"/>
<circle cx="228.6" cy="328.0" r="2.3"/>
<circle cx="222.1" cy="337.0" r="2.3"/>
<circle cx="202.7" cy="346.8" r="2.3"/>
<circle cx="203.5" cy="342.0" r="2.3"/>
<circle cx="200.5" cy="339.9" r="2.3"/>
<circle cx="239.6" cy="309.7" r="2.3"/>
<circle cx="217.9" cy="333.2" r="2.3"/>
<circle cx="231.8" cy="324.5" r="2.3"/>
<circle cx="227.1" cy="322.6" r="2.3"/>
<circle cx="220.3" cy="337.3" r="2.3"/>
<circle cx="248.4" cy="311.7" r="2.3"/>
<circle cx="246.5" cy="309.1" r="2.3"/>
<circle cx="197.5" cy="343.3" r="2.3"/>
<circle cx="208.5" cy="338.9" r="2.3"/>
<circle cx="198.3" cy="347.0" r="2.3"/>
<circle cx="226.4" cy="326.6" r="2.3"/>
<circle cx="248.6" cy="314.5" r="2.3"/>
<circle cx="229.7" cy="327.9" r="2.3"/>
<circle cx="223.9" cy="323.4" r="2.3"/>
<circle cx="205.0" cy="336.1" r="2.3"/>
<circle cx="212.6" cy="336.5" r="2.3"/>
<circle cx="245.7" cy="315.8" r="2.3"/>
<circle cx="239.6" cy="318.1" r="2.3"/>
<circle cx="243.1" cy="315.2" r="2.3"/>
<circle cx="237.5" cy="310.9" r="2.3"/>
<circle cx="220.8" cy="333.0" r="2.3"/>
<circle cx="207.9" cy="342.8" r="2.3"/>
<circle cx="197.2" cy="349.5" r="2.3"/>
<circle cx="230.1" cy="324.3" r="2.3"/>
<circle cx="248.4" cy="303.0" r="2.3"/>
<circle cx="243.6" cy="314.5" r="2.3"/>
<circle cx="233.7" cy="328.7" r="2.3"/>
<circle cx="246.4" cy="308.9" r="2.3"/>
<circle cx="241.1" cy="316.3" r="2.3"/>
<circle cx="252.7" cy="311.7" r="2.3"/>
<circle cx="218.5" cy="331.7" r="2.3"/>
<circle cx="244.8" cy="318.7" r="2.3"/>
<circle cx="252.0" cy="309.5" r="2.3"/>
<circle cx="249.7" cy="306.0" r="2.3"/>
<circle cx="229.8" cy="325.2" r="2.3"/>
<circle cx="240.7" cy="314.3" r="2.3"/>
<circle cx="253.2" cy="300.6" r="2.3"/>
<circle cx="234.9" cy="325.6" r="2.3"/>
<circle cx="248.9" cy="304.1" r="2.3"/>
<circle cx="233.7" cy="320.7" r="2.3"/>
<circle cx="229.1" cy="318.1" r="2.3"/>
<circle cx="225.6" cy="325.7" r="2.3"/>
<circle cx="250.8" cy="308.8" r="2.3"/>
<circle cx="223.2" cy="331.3" r="2.3"/>
<circle cx="251.4" cy="310.5" r="2.3"/>
<circle cx="230.4" cy="324.9" r="2.3"/>
<circle cx="219.5" cy="332.3" r="2.3"/>
<circle cx="242.9" cy="309.8" r="2.3"/>
<circle cx="244.5" cy="308.0" r="2.3"/>
<circle cx="220.4" cy="326.7" r="2.3"/>
<circle cx="247.4" cy="309.7" r="2.3"/>
<circle cx="247.5" cy="314.3" r="2.3"/>
<circle cx="249.2" cy="310.1" r="2.3"/>
<circle cx="250.9" cy="313.0" r="2.3"/>
<circle cx="225.4" cy="326.5" r="2.3"/>
<circle cx="222.0" cy="339.3" r="2.3"/>
<circle cx="247.2" cy="315.3" r="2.3"/>
<circle cx="240.8" cy="320.7" r="2.3"/>
<circle cx="228.3" cy="318.8" r="2.3"/>
<circle cx="221.6" cy="336.9" r="2.3"/>
<circle cx="225.4" cy="332.5" r="2.3"/>
<circle cx="229.5" cy="323.7" r="2.3"/>
<circle cx="227.2" cy="326.7" r="2.3"/>
<circle cx="228.2" cy="324.5" r="2.3"/>
<circle cx="229.5" cy="319.7" r="2.3"/>
<circle cx="252.7" cy="297.6" r="2.3"/>
<circle cx="240.3" cy="317.2" r="2.3"/>
<circle cx="219.1" cy="327.0" r="2.3"/>
<circle cx="205.4" cy="354.9" r="2.3"/>
<circle cx="193.1" cy="359.6" r="2.3"/>
<circle cx="189.3" cy="359.3" r="2.3"/>
<circle cx="208.0" cy="356.4" r="2.3"/>
<circle cx="187.9" cy="366.7" r="2.3"/>
<circle cx="183.0" cy="368.2" r="2.3"/>
<circle cx="211.4" cy="353.2" r="2.3"/>
<circle cx="197.3" cy="358.2" r="2.3"/>
<circle cx="206.1" cy="354.3" r="2.3"/>
<circle cx="193.1" cy="363.9" r="2.3"/>
<circle cx="207.1" cy="351.8" r="2.3"/>
<circle cx="191.2" cy="362.8" r="2.3"/>
<circle cx="197.5" cy="362.6" r="2.3"/>
<circle cx="186.2" cy="364.0" r="2.3"/>
<circle cx="293.3" cy="280.5" r="2.3"/>
<circle cx="288.3" cy="289.6" r="2.3"/>
<circle cx="269.6" cy="288.8" r="2.3"/>
<circle cx="272.1" cy="284.6" r="2.3"/>
<circle cx="254.7" cy="319.1" r="2.3"/>
<circle cx="298.9" cy="285.7" r="2.3"/>
<circle cx="264.5" cy="303.9" r="2.3"/>
<circle cx="299.6" cy="270.0" r="2.3"/>
<circle cx="298.6" cy="279.6" r="2.3"/>
<circle cx="262.8" cy="295.1" r="2.3"/>
<circle cx="291.5" cy="287.2" r="2.3"/>
<circle cx="291.4" cy="279.6" r="2.3"/>
<circle cx="268.0" cy="294.9" r="2.3"/>
<circle cx="258.5" cy="313.2" r="2.3"/>
<circle cx="290.8" cy="274.2" r="2.3"/>
<circle cx="259.3" cy="294.8" r="2.3"/>
<circle cx="281.9" cy="296.6" r="2.3"/>
<circle cx="256.9" cy="293.5" r="2.3"/>
<circle cx="263.1" cy="307.8" r="2.3"/>
<circle cx="260.5" cy="302.1" r="2.3"/>
<circle cx="296.4" cy="294.7" r="2.3"/>
<circle cx="258.5" cy="310.3" r="2.3"/>
<circle cx="268.0" cy="305.6" r="2.3"/>
<circle cx="278.7" cy="297.3" r="2.3"/>
<circle cx="260.4" cy="311.5" r="2.3"/>
<circle cx="303.6" cy="275.7" r="2.3"/>
<circle cx="302.9" cy="272.4" r="2.3"/>
<circle cx="255.6" cy="323.0" r="2.3"/>
<circle cx="293.7" cy="282.0" r="2.3"/>
<circle cx="260.8" cy="297.6" r="2.3"/>
<circle cx="285.1" cy="293.5" r="2.3"/>
<circle cx="271.4" cy="301.7" r="2.3"/>
<circle cx="251.9" cy="301.6" r="2.3"/>
<circle cx="288.1" cy="296.0" r="2.3"/>
<circle cx="277.5" cy="287.9" r="2.3"/>
<circle cx="257.8" cy="301.6" r="2.3"/>
<circle cx="283.2" cy="278.7" r="2.3"/>
<circle cx="299.9" cy="287.4" r="2.3"/>
<circle cx="273.7" cy="284.8" r="2.3"/>
<circle cx="273.2" cy="291.1" r="2.3"/>
<circle cx="262.6" cy="301.7" r="2.3"/>
<circle cx="292.6" cy="265.7" r="2.3"/>
<circle cx="288.5" cy="294.5" r="2.3"/>
<circle cx="285.3" cy="278.4" r="2.3"/>
<circle cx="275.0" cy="291.5" r="2.3"/>
<circle cx="255.4" cy="318.7" r="2.3"/>
<circle cx="273.1" cy="299.8" r="2.3"/>
<circle cx="284.6" cy="276.0" r="2.3"/>
<circle cx="263.8" cy="296.1" r="2.3"/>
<circle cx="284.2" cy="293.9" r="2.3"/>
<circle cx="272.5" cy="289.2" r="2.3"/>
<circle cx="260.1" cy="290.8" r="2.3"/>
<circle cx="286.0" cy="289.9" r="2.3"/>
<circle cx="276.9" cy="286.5" r="2.3"/>
<circle cx="303.6" cy="287.8" r="2.3"/>
<circle cx="258.8" cy="309.1" r="2.3"/>
<circle cx="293.0" cy="293.6" r="2.3"/>
<circle cx="255.6" cy="306.0" r="2.3"/>
<circle cx="281.6" cy="278.4" r="2.3"/>
<circle cx="278.2" cy="290.3" r="2.3"/>
<circle cx="285.2" cy="293.9" r="2.3"/>
<circle cx="272.6" cy="289.0" r="2.3"/>
<circle cx="302.1" cy="280.8" r="2.3"/>
<circle cx="271.6" cy="310.0" r="2.3"/>
<circle cx="291.9" cy="302.7" r="2.3"/>
<circle cx="269.6" cy="315.4" r="2.3"/>
<circle cx="253.1" cy="309.8" r="2.3"/>
<circle cx="250.7" cy="319.5" r="2.3"/>
<circle cx="273.0" cy="286.3" r="2.3"/>
<circle cx="269.4" cy="305.6" r="2.3"/>
<circle cx="264.6" cy="305.0" r="2.3"/>
<circle cx="301.7" cy="292.8" r="2.3"/>
<circle cx="279.0" cy="296.0" r="2.3"/>
<circle cx="271.6" cy="312.3" r="2.3"/>
<circle cx="261.7" cy="314.0" r="2.3"/>
<circle cx="294.5" cy="293.8" r="2.3"/>
<circle cx="284.9" cy="278.3" r="2.3"/>
<circle cx="262.4" cy="306.4" r="2.3"/>
<circle cx="303.0" cy="268.6" r="2.3"/>
<circle cx="295.0" cy="292.4" r="2.3"/>
<circle cx="294.9" cy="274.9" r="2.3"/>
<circle cx="280.2" cy="293.7" r="2.3"/>
<circle cx="256.9" cy="311.7" r="2.3"/>
<circle cx="296.8" cy="273.6" r="2.3"/>
<circle cx="264.7" cy="298.7" r="2.3"/>
<circle cx="273.4" cy="301.3" r="2.3"/>
<circle cx="260.2" cy="317.9" r="2.3"/>
<circle cx="265.5" cy="302.6" r="2.3"/>
<circle cx="263.5" cy="301.0" r="2.3"/>
<circle cx="273.6" cy="305.6" r="2.3"/>
<circle cx="285.1" cy="284.6" r="2.3"/>
<circle cx="301.1" cy="270.6" r="2.3"/>
<circle cx="297.0" cy="296.9" r="2.3"/>
<circle cx="299.8" cy="285.0" r="2.3"/>
<circle cx="293.1" cy="294.2" r="2.3"/>
<circle cx="284.8" cy="301.6" r="2.3"/>
<circle cx="250.8" cy="313.7" r="2.3"/>
<circle cx="286.1" cy="288.3" r="2.3"/>
<circle cx="257.9" cy="311.0" r="2.3"/>
<circle cx="262.9" cy="305.3" r="2.3"/>
<circle cx="258.4" cy="300.5" r="2.3"/>
<circle cx="299.7" cy="280.4" r="2.3"/>
<circle cx="299.0" cy="274.0" r="2.3"/>
<circle cx="283.5" cy="292.6" r="2.3"/>
<circle cx="299.2" cy="265.9" r="2.3"/>
<circle cx="293.3" cy="286.5" r="2.3"/>
<circle cx="288.1" cy="282.0" r="2.3"/>
<circle cx="279.2" cy="292.5" r="2.3"/>
<circle cx="298.5" cy="269.9" r="2.3"/>
<circle cx="280.5" cy="291.5" r="2.3"/>
<circle cx="257.7" cy="313.1" r="2.3"/>
<circle cx="277.1" cy="303.0" r="2.3"/>
<circle cx="257.9" cy="310.5" r="2.3"/>
<circle cx="277.0" cy="284.2" r="2.3"/>
<circle cx="297.5" cy="280.6" r="2.3"/>
<circle cx="250.4" cy="317.0" r="2.3"/>
<circle cx="280.9" cy="283.9" r="2.3"/>
<circle cx="286.6" cy="292.5" r="2.3"/>
<circle cx="273.0" cy="290.6" r="2.3"/>
<circle cx="302.8" cy="288.7" r="2.3"/>
<circle cx="285.0" cy="294.6" r="2.3"/>
<circle cx="251.6" cy="303.7" r="2.3"/>
<circle cx="301.2" cy="268.9" r="2.3"/>
<circle cx="268.2" cy="309.8" r="2.3"/>
<circle cx="276.7" cy="293.6" r="2.3"/>
<circle cx="299.4" cy="293.6" r="2.3"/>
<circle cx="284.4" cy="292.3" r="2.3"/>
<circle cx="268.6" cy="305.1" r="2.3"/>
<circle cx="276.1" cy="289.2" r="2.3"/>
<circle cx="278.9" cy="293.9" r="2.3"/>
<circle cx="273.9" cy="291.1" r="2.3"/>
<circle cx="273.2" cy="282.9" r="2.3"/>
<circle cx="266.1" cy="297.1" r="2.3"/>
<circle cx="295.5" cy="273.0" r="2.3"/>
<circle cx="264.9" cy="307.9" r="2.3"/>
<circle cx="277.9" cy="305.8" r="2.3"/>
<circle cx="293.6" cy="281.1" r="2.3"/>
<circle cx="268.2" cy="297.8" r="2.3"/>
<circle cx="282.3" cy="297.4" r="2.3"/>
<circle cx="284.9" cy="289.6" r="2.3"/>
<circle cx="289.7" cy="283.3" r="2.3"/>
<circle cx="298.7" cy="276.8" r="2.3"/>
<circle cx="266.5" cy="301.0" r="2.3"/>
<circle cx="250.3" cy="318.6" r="2.3"/>
<circle cx="283.5" cy="307.9" r="2.3"/>
<circle cx="286.2" cy="292.8" r="2.3"/>
<circle cx="283.6" cy="281.1" r="2.3"/>
<circle cx="288.3" cy="278.5" r="2.3"/>
<circle cx="282.8" cy="288.1" r="2.3"/>
<circle cx="286.7" cy="282.4" r="2.3"/>
<circle cx="275.2" cy="296.0" r="2.3"/>
<circle cx="260.0" cy="302.7" r="2.3"/>
<circle cx="252.0" cy="314.0" r="2.3"/>
<circle cx="286.1" cy="277.4" r="2.3"/>
<circle cx="293.3" cy="295.6" r="2.3"/>
<circle cx="280.9" cy="291.5" r="2.3"/>
<circle cx="273.2" cy="303.9" r="2.3"/>
<circle cx="267.5" cy="290.9" r="2.3"/>
<circle cx="301.4" cy="283.5" r="2.3"/>
<circle cx="253.0" cy="309.1" r="2.3"/>
<circle cx="306.5" cy="272.9" r="2.3"/>
<circle cx="344.6" cy="225.2" r="2.3"/>
<circle cx="324.6" cy="250.8" r="2.3"/>
<circle cx="300.8" cy="268.4" r="2.3"/>
<circle cx="351.6" cy="252.3" r="2.3"/>
<circle cx="353.9" cy="229.1" r="2.3"/>
<circle cx="305.6" cy="276.3" r="2.3"/>
<circle cx="335.4" cy="255.2" r="2.3"/>
<circle cx="300.9" cy="283.4" r="2.3"/>
<circle cx="300.3" cy="276.5" r="2.3"/>
<circle cx="353.1" cy="236.0" r="2.3"/>
<circle cx="304.8" cy="278.7" r="2.3"/>
<circle cx="301.0" cy="274.3" r="2.3"/>
<circle cx="339.6" cy="251.7" r="2.3"/>
<circle cx="310.3" cy="287.5" r="2.3"/>
<circle cx="302.8" cy="279.0" r="2.3"/>
<circle cx="347.1" cy="228.1" r="2.3"/>
<circle cx="340.1" cy="263.8" r="2.3"/>
<circle cx="339.0" cy="259.0" r="2.3"/>
<circle cx="325.3" cy="268.1" r="2.3"/>
<circle cx="353.0" cy="237.8" r="2.3"/>
<circle cx="339.4" cy="252.8" r="2.3"/>
<circle cx="335.8" cy="253.6" r="2.3"/>
<circle cx="345.0" cy="255.5" r="2.3"/>
<circle cx="340.1" cy="255.0" r="2.3"/>
<circle cx="309.1" cy="279.5" r="2.3"/>
<circle cx="303.3" cy="267.8" r="2.3"/>
<circle cx="320.2" cy="254.6" r="2.3"/>
<circle cx="337.2" cy="247.2" r="2.3"/>
<circle cx="308.0" cy="275.8" r="2.3"/>
<circle cx="335.5" cy="243.9" r="2.3"/>
<circle cx="334.6" cy="245.1" r="2.3"/>
<circle cx="343.2" cy="253.6" r="2.3"/>
<circle cx="352.0" cy="245.3" r="2.3"/>
<circle cx="316.1" cy="254.6" r="2.3"/>
<circle cx="303.3" cy="291.1" r="2.3"/>
<circle cx="345.5" cy="243.8" r="2.3"/>
<circle cx="318.3" cy="248.6" r="2.3"/>
<circle cx="345.7" cy="238.8" r="2.3"/>
<circle cx="323.6" cy="256.8" r="2.3"/>
<circle cx="348.8" cy="232.1" r="2.3"/>
<circle cx="333.1" cy="266.8" r="2.3"/>
<circle cx="349.3" cy="247.3" r="2.3"/>
<circle cx="300.1" cy="271.3" r="2.3"/>
<circle cx="314.5" cy="256.7" r="2.3"/>
<circle cx="344.9" cy="254.0" r="2.3"/>
<circle cx="348.8" cy="264.9" r="2.3"/>
<circle cx="344.6" cy="252.8" r="2.3"/>
<circle cx="347.7" cy="237.0" r="2.3"/>
<circle cx="346.8" cy="241.8" r="2.3"/>
<circle cx="344.4" cy="237.6" r="2.3"/>
<circle cx="319.1" cy="244.6" r="2.3"/>
<circle cx="304.7" cy="259.1" r="2.3"/>
<circle cx="311.0" cy="265.1" r="2.3"/>
<circle cx="341.3" cy="257.0" r="2.3"/>
<circle cx="333.4" cy="251.9" r="2.3"/>
<circle cx="337.3" cy="245.2" r="2.3"/>
<circle cx="314.0" cy="270.3" r="2.3"/>
<circle cx="341.3" cy="252.8" r="2.3"/>
<circle cx="304.8" cy="264.9" r="2.3"/>
<circle cx="344.4" cy="248.6" r="2.3"/>
<circle cx="331.9" cy="248.6" r="2.3"/>
<circle cx="349.3" cy="254.3" r="2.3"/>
<circle cx="326.2" cy="251.8" r="2.3"/>
<circle cx="332.4" cy="258.5" r="2.3"/>
<circle cx="309.9" cy="277.7" r="2.3"/>
<circle cx="338.6" cy="242.4" r="2.3"/>
<circle cx="322.1" cy="273.2" r="2.3"/>
<circle cx="328.4" cy="260.5" r="2.3"/>
<circle cx="354.8" cy="242.9" r="2.3"/>
<circle cx="320.6" cy="275.6" r="2.3"/>
<circle cx="343.3" cy="257.9" r="2.3"/>
<circle cx="308.6" cy="265.2" r="2.3"/>
<circle cx="328.6" cy="253.0" r="2.3"/>
<circle cx="301.1" cy="284.0" r="2.3"/>
<circle cx="347.6" cy="230.7" r="2.3"/>
<circle cx="314.4" cy="269.7" r="2.3"/>
<circle cx="342.9" cy="260.5" r="2.3"/>
<circle cx="342.2" cy="260.9" r="2.3"/>
<circle cx="314.0" cy="275.4" r="2.3"/>
<circle cx="309.9" cy="273.2" r="2.3"/>
<circle cx="304.6" cy="287.1" r="2.3"/>
<circle cx="347.9" cy="249.5" r="2.3"/>
<circle cx="325.2" cy="282.5" r="2.3"/>
<circle cx="303.5" cy="269.3" r="2.3"/>
<circle cx="332.9" cy="251.2" r="2.3"/>
<circle cx="352.8" cy="245.0" r="2.3"/>
<circle cx="314.1" cy="255.5" r="2.3"/>
<circle cx="352.6" cy="235.2" r="2.3"/>
<circle cx="336.8" cy="243.5" r="2.3"/>
<circle cx="308.8" cy="279.1" r="2.3"/>
<circle cx="353.1" cy="249.4" r="2.3"/>
<circle cx="302.1" cy="276.8" r="2.3"/>
<circle cx="314.1" cy="255.8" r="2.3"/>
<circle cx="349.8" cy="263.3" r="2.3"/>
<circle cx="346.0" cy="265.1" r="2.3"/>
<circle cx="339.0" cy="256.8" r="2.3"/>
<circle cx="335.6" cy="257.3" r="2.3"/>
<circle cx="308.0" cy="272.8" r="2.3"/>
<circle cx="341.5" cy="264.8" r="2.3"/>
<circle cx="316.4" cy="261.5" r="2.3"/>
<circle cx="332.5" cy="256.0" r="2.3"/>
<circle cx="317.8" cy="261.4" r="2.3"/>
<circle cx="314.1" cy="276.9" r="2.3"/>
<circle cx="309.3" cy="280.1" r="2.3"/>
<circle cx="313.1" cy="278.8" r="2.3"/>
<circle cx="300.7" cy="289.4" r="2.3"/>
<circle cx="339.4" cy="251.9" r="2.3"/>
<circle cx="351.0" cy="245.7" r="2.3"/>
<circle cx="312.1" cy="288.4" r="2.3"/>
<circle cx="348.9" cy="235.2" r="2.3"/>
<circle cx="307.7" cy="269.1" r="2.3"/>
<circle cx="351.1" cy="244.4" r="2.3"/>
<circle cx="346.3" cy="237.6" r="2.3"/>
<circle cx="318.7" cy="257.5" r="2.3"/>
<circle cx="345.3" cy="231.3" r="2.3"/>
<circle cx="307.9" cy="275.1" r="2.3"/>
<circle cx="312.2" cy="284.8" r="2.3"/>
<circle cx="330.4" cy="263.1" r="2.3"/>
<circle cx="308.0" cy="278.4" r="2.3"/>
<circle cx="322.6" cy="256.8" r="2.3"/>
<circle cx="308.6" cy="270.2" r="2.3"/>
<circle cx="318.4" cy="285.0" r="2.3"/>
<circle cx="309.2" cy="263.6" r="2.3"/>
<circle cx="349.7" cy="244.3" r="2.3"/>
<circle cx="306.3" cy="277.5" r="2.3"/>
<circle cx="349.2" cy="243.5" r="2.3"/>
<circle cx="336.8" cy="255.8" r="2.3"/>
<circle cx="315.7" cy="278.7" r="2.3"/>
<circle cx="314.2" cy="271.5" r="2.3"/>
<circle cx="354.5" cy="250.8" r="2.3"/>
<circle cx="354.9" cy="244.7" r="2.3"/>
<circle cx="315.9" cy="265.4" r="2.3"/>
<circle cx="349.3" cy="261.0" r="2.3"/>
<circle cx="316.1" cy="273.1" r="2.3"/>
<circle cx="353.8" cy="261.5" r="2.3"/>
<circle cx="318.7" cy="267.3" r="2.3"/>
<circle cx="307.7" cy="291.7" r="2.3"/>
<circle cx="329.0" cy="258.5" r="2.3"/>
<circle cx="310.2" cy="251.5" r="2.3"/>
<circle cx="312.0" cy="278.9" r="2.3"/>
<circle cx="331.4" cy="260.9" r="2.3"/>
<circle cx="342.4" cy="254.2" r="2.3"/>
<circle cx="339.1" cy="252.6" r="2.3"/>
<circle cx="304.8" cy="279.0" r="2.3"/>
<circle cx="333.5" cy="246.6" r="2.3"/>
<circle cx="311.3" cy="270.9" r="2.3"/>
<circle cx="333.7" cy="249.8" r="2.3"/>
<circle cx="332.1" cy="237.3" r="2.3"/>
<circle cx="311.1" cy="285.6" r="2.3"/>
<circle cx="322.4" cy="269.6" r="2.3"/>
<circle cx="339.7" cy="269.5" r="2.3"/>
<circle cx="318.4" cy="272.0" r="2.3"/>
<circle cx="346.3" cy="254.7" r="2.3"/>
<circle cx="300.8" cy="269.7" r="2.3"/>
<circle cx="350.1" cy="220.8" r="2.3"/>
<circle cx="314.6" cy="271.3" r="2.3"/>
<circle cx="310.2" cy="276.1" r="2.3"/>
<circle cx="309.0" cy="264.1" r="2.3"/>
<circle cx="320.4" cy="263.5" r="2.3"/>
<circle cx="328.6" cy="258.0" r="2.3"/>
<circle cx="324.5" cy="256.2" r="2.3"/>
<circle cx="339.3" cy="250.5" r="2.3"/>
<circle cx="344.9" cy="253.6" r="2.3"/>
<circle cx="339.1" cy="244.0" r="2.3"/>
<circle cx="321.0" cy="263.9" r="2.3"/>
<circle cx="348.0" cy="240.9" r="2.3"/>
<circle cx="352.5" cy="228.1" r="2.3"/>
<circle cx="329.2" cy="258.6" r="2.3"/>
<circle cx="329.6" cy="261.5" r="2.3"/>
<circle cx="312.3" cy="271.9" r="2.3"/>
<circle cx="313.8" cy="273.2" r="2.3"/>
<circle cx="344.9" cy="252.0" r="2.3"/>
<circle cx="338.4" cy="252.6" r="2.3"/>
<circle cx="310.7" cy="284.4" r="2.3"/>
<circle cx="331.7" cy="258.0" r="2.3"/>
<circle cx="328.8" cy="257.0" r="2.3"/>
<circle cx="347.8" cy="240.0" r="2.3"/>
<circle cx="339.4" cy="256.3" r="2.3"/>
<circle cx="327.1" cy="261.1" r="2.3"/>
<circle cx="385.1" cy="217.4" r="2.3"/>
<circle cx="378.4" cy="228.8" r="2.3"/>
<circle cx="359.6" cy="216.6" r="2.3"/>
<circle cx="360.3" cy="222.8" r="2.3"/>
<circle cx="390.1" cy="214.9" r="2.3"/>
<circle cx="407.8" cy="196.1" r="2.3"/>
<circle cx="415.6" cy="188.4" r="2.3"/>
<circle cx="408.8" cy="210.0" r="2.3"/>
<circle cx="386.8" cy="195.6" r="2.3"/>
<circle cx="404.4" cy="222.0" r="2.3"/>
<circle cx="373.7" cy="226.8" r="2.3"/>
<circle cx="380.5" cy="231.9" r="2.3"/>
<circle cx="418.7" cy="204.1" r="2.3"/>
<circle cx="407.1" cy="179.5" r="2.3"/>
<circle cx="409.3" cy="215.0" r="2.3"/>
<circle cx="417.1" cy="201.2" r="2.3"/>
<circle cx="415.4" cy="197.8" r="2.3"/>
<circle cx="394.3" cy="224.2" r="2.3"/>
<circle cx="375.5" cy="220.7" r="2.3"/>
<circle cx="380.3" cy="220.8" r="2.3"/>
<circle cx="385.3" cy="224.5" r="2.3"/>
<circle cx="417.9" cy="196.9" r="2.3"/>
<circle cx="404.4" cy="220.3" r="2.3"/>
<circle cx="406.6" cy="197.5" r="2.3"/>
<circle cx="411.9" cy="202.4" r="2.3"/>
<circle cx="394.9" cy="209.7" r="2.3"/>
<circle cx="368.6" cy="225.7" r="2.3"/>
<circle cx="388.0" cy="208.2" r="2.3"/>
<circle cx="414.7" cy="191.9" r="2.3"/>
<circle cx="386.4" cy="211.5" r="2.3"/>
<circle cx="380.4" cy="230.7" r="2.3"/>
<circle cx="371.4" cy="224.9" r="2.3"/>
<circle cx="395.3" cy="222.7" r="2.3"/>
<circle cx="416.9" cy="207.4" r="2.3"/>
<circle cx="386.0" cy="216.3" r="2.3"/>
<circle cx="387.4" cy="229.7" r="2.3"/>
<circle cx="360.4" cy="239.6" r="2.3"/>
<circle cx="370.6" cy="232.6" r="2.3"/>
<circle cx="378.5" cy="220.9" r="2.3"/>
<circle cx="356.1" cy="246.5" r="2.3"/>
<circle cx="388.2" cy="224.7" r="2.3"/>
<circle cx="389.9" cy="201.8" r="2.3"/>
<circle cx="395.5" cy="216.8" r="2.3"/>
<circle cx="382.3" cy="237.6" r="2.3"/>
<circle cx="388.4" cy="206.4" r="2.3"/>
<circle cx="371.7" cy="219.1" r="2.3"/>
<circle cx="367.0" cy="233.2" r="2.3"/>
<circle cx="376.8" cy="237.6" r="2.3"/>
<circle cx="391.0" cy="225.1" r="2.3"/>
<circle cx="410.3" cy="202.0" r="2.3"/>
<circle cx="366.7" cy="218.4" r="2.3"/>
<circle cx="369.9" cy="224.1" r="2.3"/>
<circle cx="419.1" cy="189.7" r="2.3"/>
<circle cx="361.1" cy="253.7" r="2.3"/>
<circle cx="354.7" cy="247.7" r="2.3"/>
<circle cx="354.3" cy="230.4" r="2.3"/>
<circle cx="377.2" cy="206.4" r="2.3"/>
<circle cx="357.6" cy="244.0" r="2.3"/>
<circle cx="365.8" cy="249.8" r="2.3"/>
<circle cx="360.8" cy="230.2" r="2.3"/>
<circle cx="373.6" cy="215.9" r="2.3"/>
<circle cx="393.1" cy="226.7" r="2.3"/>
<circle cx="409.5" cy="207.8" r="2.3"/>
<circle cx="401.7" cy="194.6" r="2.3"/>
<circle cx="402.0" cy="207.7" r="2.3"/>
<circle cx="404.9" cy="191.9" r="2.3"/>
<circle cx="399.6" cy="213.7" r="2.3"/>
<circle cx="411.0" cy="197.8" r="2.3"/>
<circle cx="350.3" cy="243.6" r="2.3"/>
<circle cx="384.9" cy="203.4" r="2.3"/>
<circle cx="417.4" cy="185.7" r="2.3"/>
<circle cx="404.9" cy="199.7" r="2.3"/>
<circle cx="411.1" cy="191.9" r="2.3"/>
<circle cx="381.7" cy="213.8" r="2.3"/>
<circle cx="382.1" cy="218.9" r="2.3"/>
<circle cx="377.3" cy="214.3" r="2.3"/>
<circle cx="388.9" cy="208.3" r="2.3"/>
<circle cx="405.1" cy="211.5" r="2.3"/>
<circle cx="409.5" cy="189.4" r="2.3"/>
<circle cx="362.9" cy="233.6" r="2.3"/>
<circle cx="371.3" cy="237.1" r="2.3"/>
<circle cx="390.7" cy="226.5" r="2.3"/>
<circle cx="356.2" cy="247.1" r="2.3"/>
<circle cx="409.0" cy="197.2" r="2.3"/>
<circle cx="408.7" cy="209.9" r="2.3"/>
<circle cx="379.9" cy="220.0" r="2.3"/>
<circle cx="413.7" cy="202.5" r="2.3"/>
<circle cx="389.5" cy="215.6" r="2.3"/>
<circle cx="384.8" cy="236.0" r="2.3"/>
<circle cx="387.7" cy="207.1" r="2.3"/>
<circle cx="419.9" cy="180.9" r="2.3"/>
<circle cx="398.0" cy="208.1" r="2.3"/>
<circle cx="377.3" cy="214.1" r="2.3"/>
<circle cx="374.6" cy="237.6" r="2.3"/>
<circle cx="416.4" cy="190.9" r="2.3"/>
<circle cx="356.9" cy="225.0" r="2.3"/>
<circle cx="376.2" cy="212.5" r="2.3"/>
<circle cx="390.2" cy="223.6" r="2.3"/>
<circle cx="411.6" cy="213.3" r="2.3"/>
<circle cx="380.8" cy="218.4" r="2.3"/>
<circle cx="393.7" cy="223.1" r="2.3"/>
<circle cx="387.1" cy="216.8" r="2.3"/>
<circle cx="407.1" cy="208.2" r="2.3"/>
<circle cx="418.5" cy="204.5" r="2.3"/>
<circle cx="407.8" cy="197.4" r="2.3"/>
<circle cx="412.6" cy="199.2" r="2.3"/>
<circle cx="398.3" cy="224.5" r="2.3"/>
<circle cx="412.2" cy="194.1" r="2.3"/>
<circle cx="370.3" cy="231.7" r="2.3"/>
<circle cx="385.8" cy="210.5" r="2.3"/>
<circle cx="362.8" cy="233.4" r="2.3"/>
<circle cx="394.1" cy="203.7" r="2.3"/>
<circle cx="419.6" cy="188.5" r="2.3"/>
<circle cx="394.6" cy="223.4" r="2.3"/>
<circle cx="405.1" cy="207.9" r="2.3"/>
<circle cx="371.5" cy="227.3" r="2.3"/>
<circle cx="371.3" cy="226.9" r="2.3"/>
<circle cx="409.0" cy="187.5" r="2.3"/>
<circle cx="363.8" cy="224.1" r="2.3"/>
<circle cx="384.9" cy="210.1" r="2.3"/>
<circle cx="395.3" cy="208.5" r="2.3"/>
<circle cx="387.2" cy="232.0" r="2.3"/>
<circle cx="378.8" cy="222.5" r="2.3"/>
<circle cx="358.5" cy="247.3" r="2.3"/>
<circle cx="357.5" cy="253.4" r="2.3"/>
<circle cx="357.0" cy="244.2" r="2.3"/>
<circle cx="407.6" cy="215.4" r="2.3"/>
<circle cx="392.9" cy="214.5" r="2.3"/>
<circle cx="350.9" cy="237.9" r="2.3"/>
<circle cx="403.9" cy="197.5" r="2.3"/>
<circle cx="374.8" cy="241.8" r="2.3"/>
<circle cx="361.9" cy="233.7" r="2.3"/>
<circle cx="413.3" cy="204.5" r="2.3"/>
<circle cx="390.8" cy="207.3" r="2.3"/>
<circle cx="377.0" cy="234.2" r="2.3"/>
<circle cx="353.8" cy="251.5" r="2.3"/>
<circle cx="417.2" cy="186.9" r="2.3"/>
<circle cx="380.8" cy="215.0" r="2.3"/>
<circle cx="353.1" cy="234.3" r="2.3"/>
<circle cx="415.2" cy="204.1" r="2.3"/>
<circle cx="412.9" cy="191.6" r="2.3"/>
<circle cx="407.1" cy="198.3" r="2.3"/>
<circle cx="417.2" cy="211.3" r="2.3"/>
<circle cx="384.7" cy="226.9" r="2.3"/>
<circle cx="377.3" cy="221.1" r="2.3"/>
<circle cx="400.3" cy="209.8" r="2.3"/>
<circle cx="411.3" cy="210.3" r="2.3"/>
<circle cx="383.9" cy="221.5" r="2.3"/>
<circle cx="362.1" cy="225.8" r="2.3"/>
<circle cx="375.1" cy="237.2" r="2.3"/>
<circle cx="370.3" cy="223.2" r="2.3"/>
<circle cx="387.4" cy="214.7" r="2.3"/>
<circle cx="377.0" cy="220.5" r="2.3"/>
<circle cx="358.6" cy="238.9" r="2.3"/>
<circle cx="407.8" cy="197.8" r="2.3"/>
<circle cx="363.4" cy="240.1" r="2.3"/>
<circle cx="369.9" cy="229.1" r="2.3"/>
<circle cx="396.5" cy="213.7" r="2.3"/>
<circle cx="373.9" cy="236.1" r="2.3"/>
<circle cx="356.5" cy="252.8" r="2.3"/>
<circle cx="368.9" cy="232.5" r="2.3"/>
<circle cx="381.0" cy="216.0" r="2.3"/>
<circle cx="408.5" cy="204.8" r="2.3"/>
<circle cx="374.7" cy="219.1" r="2.3"/>
<circle cx="400.6" cy="187.1" r="2.3"/>
<circle cx="364.6" cy="252.7" r="2.3"/>
<circle cx="416.6" cy="188.7" r="2.3"/>
<circle cx="381.7" cy="220.5" r="2.3"/>
<circle cx="359.2" cy="233.7" r="2.3"/>
<circle cx="413.0" cy="190.8" r="2.3"/>
<circle cx="391.1" cy="208.5" r="2.3"/>
<circle cx="392.6" cy="219.7" r="2.3"/>
<circle cx="364.9" cy="236.3" r="2.3"/>
<circle cx="385.9" cy="213.6" r="2.3"/>
<circle cx="388.0" cy="213.9" r="2.3"/>
<circle cx="376.9" cy="243.6" r="2.3"/>
<circle cx="396.0" cy="201.9" r="2.3"/>
<circle cx="377.3" cy="219.6" r="2.3"/>
<circle cx="356.0" cy="248.2" r="2.3"/>
<circle cx="372.5" cy="247.1" r="2.3"/>
<circle cx="396.4" cy="222.2" r="2.3"/>
<circle cx="375.3" cy="234.4" r="2.3"/>
<circle cx="385.0" cy="217.2" r="2.3"/>
<circle cx="371.8" cy="231.6" r="2.3"/>
<circle cx="365.8" cy="244.4" r="2.3"/>
<circle cx="369.8" cy="241.9" r="2.3"/>
<circle cx="378.2" cy="239.8" r="2.3"/>
<circle cx="411.8" cy="189.5" r="2.3"/>
<circle cx="410.3" cy="207.5" r="2.3"/>
<circle cx="352.1" cy="247.7" r="2.3"/>
<circle cx="397.6" cy="204.4" r="2.3"/>
<circle cx="378.9" cy="213.5" r="2.3"/>
<circle cx="396.1" cy="208.2" r="2.3"/>
<circle cx="409.3" cy="193.7" r="2.3"/>
<circle cx="374.6" cy="220.5" r="2.3"/>
<circle cx="358.1" cy="231.6" r="2.3"/>
<circle cx="413.9" cy="197.0" r="2.3"/>
<circle cx="352.8" cy="222.3" r="2.3"/>
<circle cx="352.8" cy="244.4" r="2.3"/>
<circle cx="371.2" cy="234.4" r="2.3"/>
<circle cx="376.7" cy="233.8" r="2.3"/>
<circle cx="394.7" cy="214.3" r="2.3"/>
<circle cx="362.6" cy="241.7" r="2.3"/>
<circle cx="400.2" cy="195.5" r="2.3"/>
<circle cx="367.8" cy="214.2" r="2.3"/>
<circle cx="374.4" cy="232.6" r="2.3"/>
<circle cx="350.1" cy="252.3" r="2.3"/>
<circle cx="370.0" cy="211.5" r="2.3"/>
<circle cx="353.0" cy="249.8" r="2.3"/>
<circle cx="353.3" cy="227.6" r="2.3"/>
<circle cx="425.5" cy="206.5" r="2.3"/>
<circle cx="424.0" cy="205.0" r="2.3"/>
<circle cx="454.3" cy="172.7" r="2.3"/>
<circle cx="444.9" cy="174.2" r="2.3"/>
<circle cx="431.9" cy="186.8" r="2.3"/>
<circle cx="427.1" cy="169.1" r="2.3"/>
<circle cx="418.9" cy="206.8" r="2.3"/>
<circle cx="455.0" cy="168.6" r="2.3"/>
<circle cx="444.7" cy="177.4" r="2.3"/>
<circle cx="442.0" cy="160.2" r="2.3"/>
<circle cx="434.5" cy="201.6" r="2.3"/>
<circle cx="433.4" cy="191.9" r="2.3"/>
<circle cx="437.0" cy="189.0" r="2.3"/>
<circle cx="447.8" cy="174.5" r="2.3"/>
<circle cx="416.9" cy="190.7" r="2.3"/>
<circle cx="426.2" cy="171.3" r="2.3"/>
<circle cx="438.5" cy="198.2" r="2.3"/>
<circle cx="438.4" cy="180.0" r="2.3"/>
<circle cx="425.7" cy="200.9" r="2.3"/>
<circle cx="432.7" cy="190.4" r="2.3"/>
<circle cx="423.7" cy="190.1" r="2.3"/>
<circle cx="445.4" cy="183.9" r="2.3"/>
<circle cx="443.8" cy="180.1" r="2.3"/>
<circle cx="437.2" cy="191.9" r="2.3"/>
<circle cx="434.1" cy="195.1" r="2.3"/>
<circle cx="427.9" cy="185.6" r="2.3"/>
<circle cx="453.0" cy="182.1" r="2.3"/>
<circle cx="429.3" cy="199.9" r="2.3"/>
<circle cx="450.1" cy="158.2" r="2.3"/>
<circle cx="422.3" cy="187.6" r="2.3"/>
<circle cx="443.7" cy="169.7" r="2.3"/>
<circle cx="447.9" cy="169.9" r="2.3"/>
<circle cx="450.7" cy="181.6" r="2.3"/>
<circle cx="430.5" cy="194.1" r="2.3"/>
<circle cx="423.9" cy="200.8" r="2.3"/>
<circle cx="423.5" cy="195.9" r="2.3"/>
<circle cx="445.2" cy="173.6" r="2.3"/>
<circle cx="429.0" cy="190.8" r="2.3"/>
<circle cx="435.2" cy="180.7" r="2.3"/>
<circle cx="418.1" cy="201.3" r="2.3"/>
<circle cx="415.5" cy="216.8" r="2.3"/>
<circle cx="418.6" cy="194.7" r="2.3"/>
<circle cx="445.8" cy="191.9" r="2.3"/>
<circle cx="419.7" cy="193.2" r="2.3"/>
<circle cx="436.0" cy="177.9" r="2.3"/>
<circle cx="438.4" cy="185.8" r="2.3"/>
<circle cx="415.4" cy="212.2" r="2.3"/>
<circle cx="442.0" cy="173.1" r="2.3"/>
<circle cx="455.2" cy="167.5" r="2.3"/>
<circle cx="425.6" cy="184.2" r="2.3"/>
<circle cx="421.0" cy="213.5" r="2.3"/>
<circle cx="451.1" cy="177.9" r="2.3"/>
<circle cx="427.7" cy="196.1" r="2.3"/>
<circle cx="451.4" cy="188.6" r="2.3"/>
<circle cx="454.8" cy="181.4" r="2.3"/>
<circle cx="450.7" cy="191.3" r="2.3"/>
<circle cx="446.9" cy="174.3" r="2.3"/>
<circle cx="450.5" cy="181.2" r="2.3"/>
<circle cx="428.8" cy="179.5" r="2.3"/>
<circle cx="430.9" cy="198.1" r="2.3"/>
<circle cx="450.7" cy="175.2" r="2.3"/>
<circle cx="439.4" cy="185.5" r="2.3"/>
<circle cx="442.0" cy="187.8" r="2.3"/>
<circle cx="453.9" cy="157.9" r="2.3"/>
<circle cx="455.6" cy="159.4" r="2.3"/>
<circle cx="421.8" cy="194.1" r="2.3"/>
<circle cx="427.9" cy="185.7" r="2.3"/>
<circle cx="444.6" cy="176.8" r="2.3"/>
<circle cx="422.0" cy="203.9" r="2.3"/>
<circle cx="418.9" cy="207.4" r="2.3"/>
<circle cx="423.2" cy="195.7" r="2.3"/>
<circle cx="446.1" cy="198.6" r="2.3"/>
<circle cx="451.8" cy="174.7" r="2.3"/>
<circle cx="448.8" cy="168.4" r="2.3"/>
<circle cx="443.4" cy="183.7" r="2.3"/>
<circle cx="437.1" cy="175.0" r="2.3"/>
<circle cx="433.9" cy="190.6" r="2.3"/>
<circle cx="443.6" cy="190.3" r="2.3"/>
<circle cx="422.1" cy="171.7" r="2.3"/>
<circle cx="427.7" cy="176.3" r="2.3"/>
<circle cx="430.0" cy="193.4" r="2.3"/>
<circle cx="423.4" cy="201.2" r="2.3"/>
<circle cx="434.8" cy="190.2" r="2.3"/>
<circle cx="456.8" cy="188.8" r="2.3"/>
<circle cx="456.9" cy="159.6" r="2.3"/>
<circle cx="456.4" cy="157.3" r="2.3"/>
<circle cx="417.6" cy="182.0" r="2.3"/>
<circle cx="444.1" cy="172.2" r="2.3"/>
<circle cx="439.6" cy="176.4" r="2.3"/>
<circle cx="456.0" cy="156.5" r="2.3"/>
<circle cx="427.9" cy="191.7" r="2.3"/>
<circle cx="429.8" cy="190.5" r="2.3"/>
<circle cx="423.1" cy="191.0" r="2.3"/>
<circle cx="444.2" cy="174.9" r="2.3"/>
<circle cx="443.4" cy="181.2" r="2.3"/>
<circle cx="431.0" cy="177.6" r="2.3"/>
<circle cx="437.8" cy="177.8" r="2.3"/>
<circle cx="439.3" cy="178.1" r="2.3"/>
<circle cx="422.8" cy="196.4" r="2.3"/>
<circle cx="453.3" cy="168.4" r="2.3"/>
<circle cx="452.1" cy="172.6" r="2.3"/>
<circle cx="425.9" cy="202.4" r="2.3"/>
<circle cx="425.8" cy="198.8" r="2.3"/>
<circle cx="436.0" cy="177.0" r="2.3"/>
<circle cx="439.6" cy="179.5" r="2.3"/>
<circle cx="419.9" cy="179.7" r="2.3"/>
<circle cx="418.4" cy="194.5" r="2.3"/>
<circle cx="432.5" cy="197.4" r="2.3"/>
<circle cx="452.1" cy="179.2" r="2.3"/>
<circle cx="438.7" cy="178.7" r="2.3"/>
<circle cx="458.6" cy="183.7" r="2.3"/>
<circle cx="477.7" cy="152.6" r="2.3"/>
<circle cx="481.2" cy="162.7" r="2.3"/>
<circle cx="460.4" cy="182.6" r="2.3"/>
<circle cx="472.7" cy="176.1" r="2.3"/>
<circle cx="459.3" cy="176.2" r="2.3"/>
<circle cx="456.8" cy="157.3" r="2.3"/>
<circle cx="466.7" cy="149.5" r="2.3"/>
<circle cx="473.7" cy="156.5" r="2.3"/>
<circle cx="464.4" cy="173.8" r="2.3"/>
<circle cx="468.4" cy="180.1" r="2.3"/>
<circle cx="482.4" cy="154.9" r="2.3"/>
<circle cx="478.5" cy="160.9" r="2.3"/>
<circle cx="479.1" cy="172.8" r="2.3"/>
<circle cx="481.0" cy="153.3" r="2.3"/>
<circle cx="466.7" cy="174.8" r="2.3"/>
<circle cx="456.4" cy="170.1" r="2.3"/>
<circle cx="458.1" cy="168.2" r="2.3"/>
<circle cx="480.3" cy="153.0" r="2.3"/>
<circle cx="463.0" cy="155.8" r="2.3"/>
<circle cx="469.1" cy="178.3" r="2.3"/>
<circle cx="473.3" cy="153.0" r="2.3"/>
<circle cx="480.2" cy="155.5" r="2.3"/>
<circle cx="472.5" cy="159.2" r="2.3"/>
<circle cx="476.6" cy="162.3" r="2.3"/>
<circle cx="459.5" cy="179.6" r="2.3"/>
<circle cx="472.0" cy="173.1" r="2.3"/>
<circle cx="455.4" cy="161.0" r="2.3"/>
<circle cx="459.8" cy="166.6" r="2.3"/>
<circle cx="456.1" cy="155.4" r="2.3"/>
<circle cx="467.4" cy="165.7" r="2.3"/>
<circle cx="460.0" cy="178.6" r="2.3"/>
<circle cx="467.4" cy="179.6" r="2.3"/>
<circle cx="474.2" cy="151.7" r="2.3"/>
<circle cx="465.4" cy="156.6" r="2.3"/>
<circle cx="483.2" cy="169.6" r="2.3"/>
<circle cx="456.4" cy="154.9" r="2.3"/>
<circle cx="466.4" cy="165.4" r="2.3"/>
<circle cx="473.2" cy="162.6" r="2.3"/>
<circle cx="466.1" cy="149.2" r="2.3"/>
<circle cx="473.2" cy="160.7" r="2.3"/>
<circle cx="455.6" cy="165.1" r="2.3"/>
<circle cx="486.1" cy="150.6" r="2.3"/>
<circle cx="459.6" cy="172.5" r="2.3"/>
<circle cx="463.6" cy="158.6" r="2.3"/>
<circle cx="470.8" cy="158.2" r="2.3"/>
<circle cx="472.9" cy="167.5" r="2.3"/>
<circle cx="456.1" cy="168.6" r="2.3"/>
<circle cx="479.4" cy="171.2" r="2.3"/>
<circle cx="475.0" cy="161.7" r="2.3"/>
<circle cx="463.9" cy="176.8" r="2.3"/>
<circle cx="476.5" cy="159.6" r="2.3"/>
<circle cx="471.0" cy="171.2" r="2.3"/>
<circle cx="466.0" cy="168.3" r="2.3"/>
<circle cx="467.8" cy="151.1" r="2.3"/>
<circle cx="465.6" cy="160.3" r="2.3"/>
<circle cx="486.1" cy="165.9" r="2.3"/>
<circle cx="466.6" cy="157.5" r="2.3"/>
<circle cx="462.4" cy="161.2" r="2.3"/>
<circle cx="482.4" cy="164.9" r="2.3"/>
<circle cx="469.0" cy="168.9" r="2.3"/>
<circle cx="464.5" cy="154.9" r="2.3"/>
<circle cx="446.0" cy="138.0" r="2.3"/>
<circle cx="484.8" cy="149.4" r="2.3"/>
<circle cx="484.0" cy="154.0" r="2.3"/>
<circle cx="484.6" cy="158.0" r="2.3"/>
<circle cx="484.5" cy="162.0" r="2.3"/>
<circle cx="484.5" cy="166.0" r="2.3"/>
<circle cx="484.5" cy="170.0" r="2.3"/>
<circle cx="487.5" cy="177.4" r="2.3"/>
<circle cx="479.0" cy="156.0" r="2.3"/>
<circle cx="480.0" cy="162.0" r="2.3"/>
<circle cx="464.2" cy="155.0" r="2.3"/>
<circle cx="459.7" cy="160.8" r="2.3"/>
<circle cx="465.4" cy="168.8" r="2.3"/>
<circle cx="471.0" cy="168.8" r="2.3"/>
<circle cx="228.0" cy="312.0" r="2.3"/>
<circle cx="231.0" cy="309.0" r="2.3"/>
<circle cx="236.0" cy="307.0" r="2.3"/>
<circle cx="240.0" cy="311.0" r="2.3"/>
<circle cx="244.0" cy="308.0" r="2.3"/>
<circle cx="226.0" cy="318.0" r="2.3"/>
<circle cx="233.0" cy="317.0" r="2.3"/>
<circle cx="239.0" cy="316.0" r="2.3"/>
<circle cx="247.0" cy="313.0" r="2.3"/>
<circle cx="250.0" cy="309.0" r="2.3"/>
<circle cx="246.0" cy="318.0" r="2.3"/>
</g>
<g id="b1">
<circle cx="251.3" cy="321.6" r="2.8"/>
<circle cx="233.2" cy="336.8" r="2.8"/>
<circle cx="266.6" cy="300.6" r="2.8"/>
<circle cx="258.6" cy="310.8" r="2.8"/>
<circle cx="256.6" cy="305.7" r="2.8"/>
<circle cx="298.3" cy="301.6" r="2.8"/>
<circle cx="286.8" cy="295.0" r="2.8"/>
<circle cx="242.8" cy="320.6" r="2.8"/>
<circle cx="260.6" cy="301.6" r="2.8"/>
<circle cx="278.3" cy="312.3" r="2.8"/>
<circle cx="245.6" cy="307.1" r="2.8"/>
<circle cx="291.0" cy="280.0" r="2.8"/>
<circle cx="280.5" cy="286.3" r="2.8"/>
<circle cx="238.9" cy="329.8" r="2.8"/>
<circle cx="283.0" cy="295.2" r="2.8"/>
<circle cx="288.5" cy="282.0" r="2.8"/>
<circle cx="287.2" cy="286.3" r="2.8"/>
<circle cx="236.4" cy="325.1" r="2.8"/>
<circle cx="232.2" cy="327.3" r="2.8"/>
<circle cx="245.8" cy="312.3" r="2.8"/>
<circle cx="248.0" cy="308.0" r="2.8"/>
<circle cx="291.7" cy="290.6" r="2.8"/>
<circle cx="228.3" cy="321.9" r="2.8"/>
<circle cx="268.8" cy="306.1" r="2.8"/>
<circle cx="361.8" cy="222.5" r="2.8"/>
<circle cx="378.0" cy="234.1" r="2.8"/>
<circle cx="310.4" cy="268.9" r="2.8"/>
<circle cx="320.9" cy="269.8" r="2.8"/>
<circle cx="302.6" cy="287.6" r="2.8"/>
<circle cx="312.3" cy="279.0" r="2.8"/>
<circle cx="384.9" cy="234.6" r="2.8"/>
<circle cx="348.4" cy="244.9" r="2.8"/>
<circle cx="308.6" cy="281.0" r="2.8"/>
<circle cx="382.9" cy="223.2" r="2.8"/>
<circle cx="353.3" cy="244.0" r="2.8"/>
<circle cx="381.2" cy="247.5" r="2.8"/>
<circle cx="335.6" cy="257.0" r="2.8"/>
<circle cx="395.5" cy="207.1" r="2.8"/>
<circle cx="390.0" cy="234.0" r="2.8"/>
<circle cx="384.0" cy="202.7" r="2.8"/>
<circle cx="333.3" cy="265.6" r="2.8"/>
<circle cx="372.5" cy="246.4" r="2.8"/>
<circle cx="317.0" cy="271.5" r="2.8"/>
<circle cx="390.5" cy="221.8" r="2.8"/>
<circle cx="380.7" cy="237.6" r="2.8"/>
<circle cx="313.1" cy="281.1" r="2.8"/>
<circle cx="393.4" cy="190.7" r="2.8"/>
<circle cx="382.6" cy="232.3" r="2.8"/>
<circle cx="358.6" cy="237.6" r="2.8"/>
<circle cx="313.1" cy="281.4" r="2.8"/>
<circle cx="358.3" cy="249.3" r="2.8"/>
<circle cx="344.0" cy="248.1" r="2.8"/>
<circle cx="347.3" cy="243.8" r="2.8"/>
<circle cx="351.8" cy="223.3" r="2.8"/>
<circle cx="356.0" cy="240.3" r="2.8"/>
<circle cx="344.3" cy="237.5" r="2.8"/>
<circle cx="326.0" cy="250.8" r="2.8"/>
<circle cx="384.0" cy="225.2" r="2.8"/>
<circle cx="344.2" cy="252.9" r="2.8"/>
<circle cx="366.9" cy="237.5" r="2.8"/>
<circle cx="378.4" cy="230.6" r="2.8"/>
<circle cx="396.8" cy="233.2" r="2.8"/>
<circle cx="348.7" cy="241.7" r="2.8"/>
<circle cx="343.2" cy="242.9" r="2.8"/>
<circle cx="372.2" cy="244.8" r="2.8"/>
<circle cx="351.2" cy="258.1" r="2.8"/>
<circle cx="306.4" cy="293.8" r="2.8"/>
<circle cx="377.9" cy="228.7" r="2.8"/>
<circle cx="305.8" cy="270.1" r="2.8"/>
<circle cx="306.7" cy="282.1" r="2.8"/>
<circle cx="312.9" cy="265.8" r="2.8"/>
<circle cx="352.7" cy="242.9" r="2.8"/>
<circle cx="316.1" cy="273.0" r="2.8"/>
<circle cx="330.5" cy="267.3" r="2.8"/>
<circle cx="317.8" cy="279.4" r="2.8"/>
<circle cx="301.5" cy="278.6" r="2.8"/>
<circle cx="373.3" cy="220.7" r="2.8"/>
<circle cx="393.5" cy="233.2" r="2.8"/>
<circle cx="343.2" cy="262.6" r="2.8"/>
<circle cx="370.7" cy="221.8" r="2.8"/>
<circle cx="406.4" cy="196.1" r="2.8"/>
<circle cx="399.4" cy="214.0" r="2.8"/>
<circle cx="446.2" cy="173.9" r="2.8"/>
<circle cx="402.3" cy="201.7" r="2.8"/>
<circle cx="413.9" cy="203.3" r="2.8"/>
<circle cx="421.6" cy="197.3" r="2.8"/>
<circle cx="409.0" cy="205.1" r="2.8"/>
<circle cx="418.4" cy="198.1" r="2.8"/>
<circle cx="410.4" cy="209.5" r="2.8"/>
<circle cx="397.7" cy="213.9" r="2.8"/>
<circle cx="434.4" cy="197.2" r="2.8"/>
<circle cx="404.8" cy="198.4" r="2.8"/>
<circle cx="383.3" cy="236.1" r="2.8"/>
<circle cx="427.7" cy="167.2" r="2.8"/>
<circle cx="442.8" cy="160.1" r="2.8"/>
<circle cx="424.4" cy="210.2" r="2.8"/>
<circle cx="432.7" cy="175.6" r="2.8"/>
<circle cx="397.5" cy="219.4" r="2.8"/>
<circle cx="407.4" cy="207.1" r="2.8"/>
<circle cx="440.6" cy="182.9" r="2.8"/>
<circle cx="428.8" cy="197.9" r="2.8"/>
<circle cx="431.4" cy="185.2" r="2.8"/>
<circle cx="415.4" cy="221.2" r="2.8"/>
<circle cx="414.9" cy="199.6" r="2.8"/>
<circle cx="395.9" cy="222.0" r="2.8"/>
<circle cx="424.2" cy="191.1" r="2.8"/>
<circle cx="390.8" cy="212.1" r="2.8"/>
<circle cx="416.9" cy="227.8" r="2.8"/>
<circle cx="414.3" cy="201.4" r="2.8"/>
<circle cx="443.9" cy="204.0" r="2.8"/>
<circle cx="389.1" cy="236.7" r="2.8"/>
<circle cx="383.7" cy="241.7" r="2.8"/>
<circle cx="435.7" cy="182.2" r="2.8"/>
<circle cx="383.7" cy="227.9" r="2.8"/>
<circle cx="406.1" cy="200.1" r="2.8"/>
<circle cx="448.9" cy="167.7" r="2.8"/>
<circle cx="448.9" cy="177.7" r="2.8"/>
<circle cx="437.0" cy="173.4" r="2.8"/>
<circle cx="411.4" cy="189.0" r="2.8"/>
<circle cx="410.4" cy="213.7" r="2.8"/>
<circle cx="448.1" cy="182.4" r="2.8"/>
<circle cx="416.0" cy="199.7" r="2.8"/>
<circle cx="409.8" cy="204.0" r="2.8"/>
<circle cx="450.4" cy="189.0" r="2.8"/>
<circle cx="453.9" cy="149.7" r="2.8"/>
<circle cx="429.2" cy="183.0" r="2.8"/>
<circle cx="419.9" cy="185.6" r="2.8"/>
<circle cx="484.7" cy="144.1" r="2.8"/>
<circle cx="461.5" cy="168.1" r="2.8"/>
<circle cx="469.9" cy="164.5" r="2.8"/>
<circle cx="475.6" cy="154.0" r="2.8"/>
<circle cx="483.6" cy="155.3" r="2.8"/>
<circle cx="464.8" cy="168.0" r="2.8"/>
<circle cx="479.5" cy="152.4" r="2.8"/>
<circle cx="477.7" cy="152.8" r="2.8"/>
<circle cx="485.0" cy="154.0" r="2.8"/>
<circle cx="461.1" cy="162.2" r="2.8"/>
<circle cx="467.3" cy="170.0" r="2.8"/>
<circle cx="455.9" cy="155.9" r="2.8"/>
<circle cx="477.9" cy="170.3" r="2.8"/>
</g>
<clipPath id="cpk"><rect x="249.7" y="249.4" width="125.2" height="96.2"/></clipPath>
<clipPath id="cpp"><rect x="137.4" y="328" width="107" height="83"/></clipPath>
</defs>
<use href="#b0" fill="#231f20"/><use href="#rd" fill="#fa0f0f"/><use href="#b1" fill="#231f20"/>
<g fill="none" stroke="#12ee12" stroke-width="1.8">
<rect x="368.6" y="158.2" width="8.2" height="8.2"/>
<rect x="365.9" y="159.9" width="8.2" height="8.2"/>
<rect x="359.5" y="168.2" width="8.2" height="8.2"/>
<rect x="350.4" y="172.7" width="8.2" height="8.2"/>
<rect x="347.7" y="166.4" width="8.2" height="8.2"/>
<rect x="341.4" y="169.9" width="8.2" height="8.2"/>
<rect x="334.9" y="172.7" width="8.2" height="8.2"/>
<rect x="331.4" y="175.4" width="8.2" height="8.2"/>
<rect x="327.7" y="179.1" width="8.2" height="8.2"/>
<rect x="324.9" y="183.6" width="8.2" height="8.2"/>
<rect x="332.3" y="181.9" width="8.2" height="8.2"/>
<rect x="323.2" y="188.2" width="8.2" height="8.2"/>
<rect x="315.9" y="195.4" width="8.2" height="8.2"/>
<rect x="353.9" y="163.9" width="8.2" height="8.2"/>
<rect x="361.9" y="161.9" width="8.2" height="8.2"/>
<rect x="338.9" y="175.9" width="8.2" height="8.2"/>
<rect x="343.9" y="173.9" width="8.2" height="8.2"/>
</g>
<g fill="none" stroke="#12ee12" stroke-width="1.8">
<circle cx="391.5" cy="139.5" r="5.0"/>
<circle cx="377.3" cy="152.3" r="5.0"/>
<circle cx="364.5" cy="159.2" r="5.0"/>
<circle cx="276.3" cy="216.6" r="5.0"/>
<circle cx="298.7" cy="199.8" r="5.0"/>
<circle cx="308.3" cy="197.2" r="5.0"/>
<circle cx="328.7" cy="191.0" r="5.0"/>
<circle cx="341.0" cy="181.0" r="5.0"/>
<circle cx="349.0" cy="176.0" r="5.0"/>
<circle cx="356.0" cy="170.0" r="5.0"/>
<circle cx="334.0" cy="186.0" r="5.0"/>
</g>
<g fill="none" stroke="#231f20" stroke-width="1.8">
<rect x="319.6" y="170.1" width="8.2" height="8.2"/>
<rect x="299.9" y="192.4" width="8.2" height="8.2"/>
<rect x="283.9" y="204.9" width="8.2" height="8.2"/>
<rect x="264.9" y="218.9" width="8.2" height="8.2"/>
<rect x="253.9" y="238.7" width="8.2" height="8.2"/>
<rect x="354.9" y="150.4" width="8.2" height="8.2"/>
<rect x="358.4" y="148.4" width="8.2" height="8.2"/>
<rect x="361.9" y="147.7" width="8.2" height="8.2"/>
<rect x="364.9" y="147.2" width="8.2" height="8.2"/>
</g>
<g fill="none" stroke="#231f20" stroke-width="1.8">
<circle cx="521.9" cy="44.1" r="5.0"/>
<circle cx="522.4" cy="47.6" r="5.0"/>
<circle cx="520.3" cy="48.4" r="5.0"/>
<circle cx="521.5" cy="51.0" r="5.0"/>
<circle cx="518.1" cy="52.8" r="5.0"/>
<circle cx="517.2" cy="54.5" r="5.0"/>
<circle cx="510.7" cy="58.8" r="5.0"/>
<circle cx="492.4" cy="71.6" r="5.0"/>
</g>
<line x1="137.5" y1="390" x2="448" y2="183" stroke-width="4.7" stroke="#000"/>
<line x1="251" y1="240.5" x2="376.1" y2="156.8" stroke="#000" stroke-width="4.7"/>
<g clip-path="url(#cpp)">
<rect x="137" y="327" width="108" height="85" fill="#e8d8ff"/>
<use href="#b0" fill="#463469"/><use href="#rd" fill="#ff1e50"/><use href="#b1" fill="#463469"/>
<line x1="137.5" y1="390" x2="448" y2="183" stroke-width="4.7" stroke="#2d1a4b"/>
</g>
<rect x="137.4" y="328" width="107" height="83" fill="none" stroke="#b9aecb" stroke-width="0.5"/>
<g clip-path="url(#cpk)">
<rect x="249" y="249" width="127" height="98" fill="#fcc9e8"/>
<polygon points="182.4,262.3 517.7,27.8 547.4,70 212.2,305.6" fill="none" stroke="#d9bdee" stroke-width="0.9"/>
<use href="#b0" fill="#66334f"/><use href="#rd" fill="#ff1937"/><use href="#b1" fill="#66334f"/>
<line x1="137.5" y1="390" x2="448" y2="183" stroke-width="4.7" stroke="#531941"/>
</g>
<rect x="249.7" y="249.4" width="125.2" height="96.2" fill="none" stroke="#cfb3c4" stroke-width="0.5"/>
<g fill="none" stroke="#1414f0" stroke-width="1.8">
<rect x="199.2" y="276.1" width="8.2" height="8.2"/>
<rect x="216.9" y="260.8" width="8.2" height="8.2"/>
<rect x="218.7" y="271.5" width="8.2" height="8.2"/>
<rect x="235.3" y="268.9" width="8.2" height="8.2"/>
<rect x="258.4" y="243.7" width="8.2" height="8.2"/>
<rect x="263.9" y="239.2" width="8.2" height="8.2"/>
<rect x="268.9" y="238.9" width="8.2" height="8.2"/>
<rect x="275.5" y="237.9" width="8.2" height="8.2"/>
<rect x="277.9" y="235.3" width="8.2" height="8.2"/>
<rect x="283.9" y="228.5" width="8.2" height="8.2"/>
<rect x="289.9" y="220.6" width="8.2" height="8.2"/>
<rect x="262.1" y="238.7" width="8.2" height="8.2"/>
<rect x="272.2" y="237.9" width="8.2" height="8.2"/>
</g>
<g fill="none" stroke="#1414f0" stroke-width="1.8">
<circle cx="267.4" cy="268.2" r="5.0"/>
<circle cx="277.8" cy="261.0" r="5.0"/>
<circle cx="283.0" cy="251.0" r="5.0"/>
<circle cx="347.6" cy="202.7" r="5.0"/>
<circle cx="332.5" cy="208.0" r="5.0"/>
<circle cx="328.7" cy="212.9" r="5.0"/>
<circle cx="321.4" cy="217.2" r="5.0"/>
<circle cx="316.2" cy="221.0" r="5.0"/>
<circle cx="311.2" cy="223.6" r="5.0"/>
<circle cx="306.9" cy="225.4" r="5.0"/>
</g>
<rect x="58.5" y="30.2" width="464.0" height="380.6" fill="none" stroke="#231f20" stroke-width="1.2"/>
<path d="M58.50 410.8v-4.6M58.50 30.2v4.6M86.44 410.8v-2.6M86.44 30.2v2.6M102.78 410.8v-2.6M102.78 30.2v2.6M114.37 410.8v-2.6M114.37 30.2v2.6M123.36 410.8v-2.6M123.36 30.2v2.6M130.71 410.8v-2.6M130.71 30.2v2.6M136.93 410.8v-2.6M136.93 30.2v2.6M142.31 410.8v-2.6M142.31 30.2v2.6M147.05 410.8v-2.6M147.05 30.2v2.6M151.30 410.8v-4.6M151.30 30.2v4.6M179.24 410.8v-2.6M179.24 30.2v2.6M195.58 410.8v-2.6M195.58 30.2v2.6M207.17 410.8v-2.6M207.17 30.2v2.6M216.16 410.8v-2.6M216.16 30.2v2.6M223.51 410.8v-2.6M223.51 30.2v2.6M229.73 410.8v-2.6M229.73 30.2v2.6M235.11 410.8v-2.6M235.11 30.2v2.6M239.85 410.8v-2.6M239.85 30.2v2.6M244.10 410.8v-4.6M244.10 30.2v4.6M272.04 410.8v-2.6M272.04 30.2v2.6M288.38 410.8v-2.6M288.38 30.2v2.6M299.97 410.8v-2.6M299.97 30.2v2.6M308.96 410.8v-2.6M308.96 30.2v2.6M316.31 410.8v-2.6M316.31 30.2v2.6M322.53 410.8v-2.6M322.53 30.2v2.6M327.91 410.8v-2.6M327.91 30.2v2.6M332.65 410.8v-2.6M332.65 30.2v2.6M336.90 410.8v-4.6M336.90 30.2v4.6M364.84 410.8v-2.6M364.84 30.2v2.6M381.18 410.8v-2.6M381.18 30.2v2.6M392.77 410.8v-2.6M392.77 30.2v2.6M401.76 410.8v-2.6M401.76 30.2v2.6M409.11 410.8v-2.6M409.11 30.2v2.6M415.33 410.8v-2.6M415.33 30.2v2.6M420.71 410.8v-2.6M420.71 30.2v2.6M425.45 410.8v-2.6M425.45 30.2v2.6M429.70 410.8v-4.6M429.70 30.2v4.6M457.64 410.8v-2.6M457.64 30.2v2.6M473.98 410.8v-2.6M473.98 30.2v2.6M485.57 410.8v-2.6M485.57 30.2v2.6M494.56 410.8v-2.6M494.56 30.2v2.6M501.91 410.8v-2.6M501.91 30.2v2.6M508.13 410.8v-2.6M508.13 30.2v2.6M513.51 410.8v-2.6M513.51 30.2v2.6M518.25 410.8v-2.6M518.25 30.2v2.6M522.50 410.8v-4.6M522.50 30.2v4.6M58.5 30.20h4.6M522.5 30.20h-4.6M58.5 74.54h2.6M522.5 74.54h-2.6M58.5 63.37h2.6M522.5 63.37h-2.6M58.5 55.44h2.6M522.5 55.44h-2.6M58.5 49.30h2.6M522.5 49.30h-2.6M58.5 44.27h2.6M522.5 44.27h-2.6M58.5 40.03h2.6M522.5 40.03h-2.6M58.5 36.35h2.6M522.5 36.35h-2.6M58.5 33.10h2.6M522.5 33.10h-2.6M58.5 93.63h4.6M522.5 93.63h-4.6M58.5 137.97h2.6M522.5 137.97h-2.6M58.5 126.80h2.6M522.5 126.80h-2.6M58.5 118.88h2.6M522.5 118.88h-2.6M58.5 112.73h2.6M522.5 112.73h-2.6M58.5 107.71h2.6M522.5 107.71h-2.6M58.5 103.46h2.6M522.5 103.46h-2.6M58.5 99.78h2.6M522.5 99.78h-2.6M58.5 96.54h2.6M522.5 96.54h-2.6M58.5 157.07h4.6M522.5 157.07h-4.6M58.5 201.40h2.6M522.5 201.40h-2.6M58.5 190.23h2.6M522.5 190.23h-2.6M58.5 182.31h2.6M522.5 182.31h-2.6M58.5 176.16h2.6M522.5 176.16h-2.6M58.5 171.14h2.6M522.5 171.14h-2.6M58.5 166.89h2.6M522.5 166.89h-2.6M58.5 163.21h2.6M522.5 163.21h-2.6M58.5 159.97h2.6M522.5 159.97h-2.6M58.5 220.50h4.6M522.5 220.50h-4.6M58.5 264.84h2.6M522.5 264.84h-2.6M58.5 253.67h2.6M522.5 253.67h-2.6M58.5 245.74h2.6M522.5 245.74h-2.6M58.5 239.60h2.6M522.5 239.60h-2.6M58.5 234.57h2.6M522.5 234.57h-2.6M58.5 230.33h2.6M522.5 230.33h-2.6M58.5 226.65h2.6M522.5 226.65h-2.6M58.5 223.40h2.6M522.5 223.40h-2.6M58.5 283.93h4.6M522.5 283.93h-4.6M58.5 328.27h2.6M522.5 328.27h-2.6M58.5 317.10h2.6M522.5 317.10h-2.6M58.5 309.18h2.6M522.5 309.18h-2.6M58.5 303.03h2.6M522.5 303.03h-2.6M58.5 298.01h2.6M522.5 298.01h-2.6M58.5 293.76h2.6M522.5 293.76h-2.6M58.5 290.08h2.6M522.5 290.08h-2.6M58.5 286.84h2.6M522.5 286.84h-2.6M58.5 347.37h4.6M522.5 347.37h-4.6M58.5 391.70h2.6M522.5 391.70h-2.6M58.5 380.53h2.6M522.5 380.53h-2.6M58.5 372.61h2.6M522.5 372.61h-2.6M58.5 366.46h2.6M522.5 366.46h-2.6M58.5 361.44h2.6M522.5 361.44h-2.6M58.5 357.19h2.6M522.5 357.19h-2.6M58.5 353.51h2.6M522.5 353.51h-2.6M58.5 350.27h2.6M522.5 350.27h-2.6M58.5 410.80h4.6M522.5 410.80h-4.6" stroke="#231f20" stroke-width="0.9" fill="none"/>
<text x="45.7" y="436.3" font-size="15.2" textLength="14.6" lengthAdjust="spacingAndGlyphs" stroke="#231f20">10</text>
<text x="60.7" y="429.2" font-size="10.6" stroke="#231f20">-6</text>
<text x="138.5" y="436.3" font-size="15.2" textLength="14.6" lengthAdjust="spacingAndGlyphs" stroke="#231f20">10</text>
<text x="153.5" y="429.2" font-size="10.6" stroke="#231f20">-5</text>
<text x="231.3" y="436.3" font-size="15.2" textLength="14.6" lengthAdjust="spacingAndGlyphs" stroke="#231f20">10</text>
<text x="246.3" y="429.2" font-size="10.6" stroke="#231f20">-4</text>
<text x="324.1" y="436.3" font-size="15.2" textLength="14.6" lengthAdjust="spacingAndGlyphs" stroke="#231f20">10</text>
<text x="339.1" y="429.2" font-size="10.6" stroke="#231f20">-3</text>
<text x="416.9" y="436.3" font-size="15.2" textLength="14.6" lengthAdjust="spacingAndGlyphs" stroke="#231f20">10</text>
<text x="431.9" y="429.2" font-size="10.6" stroke="#231f20">-2</text>
<text x="509.7" y="436.3" font-size="15.2" textLength="14.6" lengthAdjust="spacingAndGlyphs" stroke="#231f20">10</text>
<text x="524.7" y="429.2" font-size="10.6" stroke="#231f20">-1</text>
<text x="28.2" y="38.8" font-size="15.2" textLength="14.6" lengthAdjust="spacingAndGlyphs" stroke="#231f20">10</text>
<text x="43.1" y="31.5" font-size="10.6" stroke="#231f20">-1</text>
<text x="28.2" y="102.2" font-size="15.2" textLength="14.6" lengthAdjust="spacingAndGlyphs" stroke="#231f20">10</text>
<text x="43.1" y="94.9" font-size="10.6" stroke="#231f20">-2</text>
<text x="28.2" y="165.7" font-size="15.2" textLength="14.6" lengthAdjust="spacingAndGlyphs" stroke="#231f20">10</text>
<text x="43.1" y="158.4" font-size="10.6" stroke="#231f20">-3</text>
<text x="28.2" y="229.1" font-size="15.2" textLength="14.6" lengthAdjust="spacingAndGlyphs" stroke="#231f20">10</text>
<text x="43.1" y="221.8" font-size="10.6" stroke="#231f20">-4</text>
<text x="28.2" y="292.5" font-size="15.2" textLength="14.6" lengthAdjust="spacingAndGlyphs" stroke="#231f20">10</text>
<text x="43.1" y="285.2" font-size="10.6" stroke="#231f20">-5</text>
<text x="28.2" y="356.0" font-size="15.2" textLength="14.6" lengthAdjust="spacingAndGlyphs" stroke="#231f20">10</text>
<text x="43.1" y="348.7" font-size="10.6" stroke="#231f20">-6</text>
<text x="28.2" y="419.4" font-size="15.2" textLength="14.6" lengthAdjust="spacingAndGlyphs" stroke="#231f20">10</text>
<text x="43.1" y="412.1" font-size="10.6" stroke="#231f20">-7</text>
<text x="186.8" y="457.6" font-size="16.2" textLength="66.4" lengthAdjust="spacingAndGlyphs" stroke="#231f20">Electrical</text>
<text x="258" y="457.6" font-size="16.2" textLength="92" lengthAdjust="spacingAndGlyphs" stroke="#231f20">conductivity</text>
<text x="354.8" y="457.6" font-size="16.2" textLength="38.4" lengthAdjust="spacingAndGlyphs" stroke="#231f20">(S/m)</text>
<g transform="translate(19.6,320.2) rotate(-90)">
<text x="0" y="0" font-size="16.2" textLength="70.5" lengthAdjust="spacingAndGlyphs" stroke="#231f20">Normalized</text>
<text x="75.8" y="0" font-size="16.2" textLength="97.6" lengthAdjust="spacingAndGlyphs" stroke="#231f20">chargeability</text>
<text x="177.8" y="0" font-size="16.2" textLength="39.6" lengthAdjust="spacingAndGlyphs" stroke="#231f20">(S/m)</text>
</g>
<text x="390.2" y="17.2" font-size="16.6" textLength="152.7" lengthAdjust="spacingAndGlyphs" stroke="#231f20">Graphite-rich schists</text>
<line x1="466.5" y1="21.5" x2="466.5" y2="39" stroke="#0a64ff" stroke-width="1.3"/>
<text x="454.3" y="88.5" font-size="17" textLength="43" lengthAdjust="spacingAndGlyphs" fill="#ff3c14" stroke="#ff3c14">Warm</text>
<text x="399.2" y="272.8" font-size="17" textLength="122.1" lengthAdjust="spacingAndGlyphs" stroke="#231f20">Unfrozen schists</text>
<line x1="460.1" y1="240.8" x2="460.1" y2="258" stroke="#0a64ff" stroke-width="1.3"/>
<text x="298" y="321.6" font-size="17" textLength="69.1" lengthAdjust="spacingAndGlyphs" fill="#3a1830" stroke="#3a1830">Unfrozen</text>
<text x="294.6" y="342.3" font-size="17" textLength="77" lengthAdjust="spacingAndGlyphs" fill="#3a1830" stroke="#3a1830">sandstone</text>
<text x="269.7" y="399.7" font-size="17" textLength="132" lengthAdjust="spacingAndGlyphs" stroke="#231f20">Frozen sandstone</text>
<line x1="245.5" y1="394.2" x2="261" y2="394.2" stroke="#777" stroke-width="1.2"/>
<text x="120.6" y="306.3" font-size="17" textLength="77.8" lengthAdjust="spacingAndGlyphs" fill="#0a64ff" stroke="#0a64ff">Permafrost</text>
<text x="65.1" y="396.9" font-size="16.4" textLength="12" lengthAdjust="spacingAndGlyphs" stroke="#231f20">M</text>
<text x="78.2" y="402.5" font-size="13" textLength="6.8" lengthAdjust="spacingAndGlyphs" stroke="#231f20">b</text>
<text x="86.9" y="396.9" font-size="16.4" textLength="44.7" lengthAdjust="spacingAndGlyphs" stroke="#231f20">= 0.03</text>
<g transform="translate(254.9,202.4) rotate(-33.7)">
<text x="0" y="0" font-size="16.8" textLength="101" lengthAdjust="spacingAndGlyphs" stroke="#231f20">Graphite-rich</text>
</g>
<rect x="58.5" y="30.2" width="179" height="156.8" fill="#fff" stroke="#231f20" stroke-width="1.1"/>
<circle cx="68.0" cy="39.5" r="2.9" fill="#231f20"/>
<circle cx="68.0" cy="57.0" r="2.2" fill="#fa0f0f"/>
<rect x="64.2" y="70.60000000000001" width="7.6" height="7.6" fill="none" stroke="#231f20" stroke-width="1.5"/>
<circle cx="68.0" cy="91.6" r="4.5" fill="none" stroke="#231f20" stroke-width="1.5"/>
<rect x="64.2" y="104.9" width="7.6" height="7.6" fill="none" stroke="#12ee12" stroke-width="1.5"/>
<circle cx="68.0" cy="126.0" r="4.5" fill="none" stroke="#12ee12" stroke-width="1.5"/>
<rect x="64.2" y="139.5" width="7.6" height="7.6" fill="none" stroke="#1414f0" stroke-width="1.5"/>
<circle cx="68.0" cy="160.6" r="4.5" fill="none" stroke="#1414f0" stroke-width="1.5"/>
<line x1="60.5" y1="177.9" x2="77" y2="177.9" stroke="#808080" stroke-width="2.8"/>
<text x="77.8" y="44.2" font-size="14" textLength="112.7" lengthAdjust="spacingAndGlyphs" stroke="#231f20">Field data profile 1</text>
<text x="77.8" y="61.7" font-size="14" textLength="114.4" lengthAdjust="spacingAndGlyphs" stroke="#231f20">Field data profile 2</text>
<text x="77.8" y="79.1" font-size="14" textLength="46.1" lengthAdjust="spacingAndGlyphs" stroke="#231f20">ValT 1.a</text>
<text x="77.8" y="96.3" font-size="14" textLength="47.8" lengthAdjust="spacingAndGlyphs" stroke="#231f20">ValT 1.b</text>
<text x="77.8" y="113.4" font-size="14" textLength="46.1" lengthAdjust="spacingAndGlyphs" stroke="#231f20">ValT 2.a</text>
<text x="77.8" y="130.7" font-size="14" textLength="47.8" lengthAdjust="spacingAndGlyphs" stroke="#231f20">ValT 2.b</text>
<text x="77.8" y="148.0" font-size="14" textLength="74.8" lengthAdjust="spacingAndGlyphs" stroke="#231f20">Sandstone 1</text>
<text x="77.8" y="165.3" font-size="14" textLength="76.1" lengthAdjust="spacingAndGlyphs" stroke="#231f20">Sandstone 2</text>
<text x="78.3" y="182.6" font-size="14" textLength="156.8" lengthAdjust="spacingAndGlyphs" stroke="#231f20">Linear trend (slope =0.08)</text>
</svg>
</body></html>
